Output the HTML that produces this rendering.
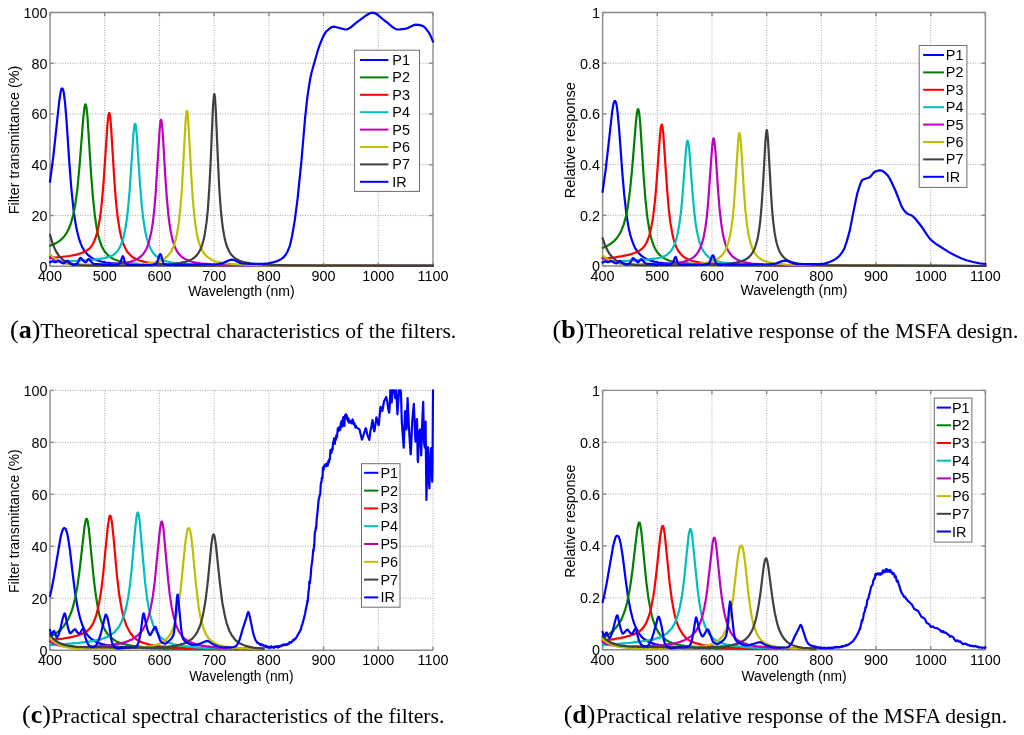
<!DOCTYPE html>
<html><head><meta charset="utf-8"><title>Spectral characteristics</title>
<style>
html,body{margin:0;padding:0;background:#fff;width:1024px;height:735px;overflow:hidden}
svg{display:block}
.tk{font-family:"Liberation Sans",Arial,Helvetica,sans-serif;font-size:14.4px;fill:#000}
.cap{font-family:"Liberation Serif","Times New Roman",serif;font-size:21.6px;fill:#000}
.lab{font-size:26px}
.ax{stroke:#8a8a8a;stroke-width:1.4;fill:none}
.grid{stroke:#a0a0a0;stroke-width:0.9;stroke-dasharray:1 1.5;fill:none}
</style></head><body>
<svg width="1024" height="735" viewBox="0 0 1024 735">
<rect width="1024" height="735" fill="#fff"/>
<line x1="104.71" y1="12.50" x2="104.71" y2="266.30" class="grid"/>
<line x1="159.43" y1="12.50" x2="159.43" y2="266.30" class="grid"/>
<line x1="214.14" y1="12.50" x2="214.14" y2="266.30" class="grid"/>
<line x1="268.86" y1="12.50" x2="268.86" y2="266.30" class="grid"/>
<line x1="323.57" y1="12.50" x2="323.57" y2="266.30" class="grid"/>
<line x1="378.29" y1="12.50" x2="378.29" y2="266.30" class="grid"/>
<line x1="50.00" y1="215.54" x2="433.00" y2="215.54" class="grid"/>
<line x1="50.00" y1="164.78" x2="433.00" y2="164.78" class="grid"/>
<line x1="50.00" y1="114.02" x2="433.00" y2="114.02" class="grid"/>
<line x1="50.00" y1="63.26" x2="433.00" y2="63.26" class="grid"/>
<line x1="50.00" y1="12.50" x2="50.00" y2="266.30" class="ax"/>
<line x1="50.00" y1="266.30" x2="433.00" y2="266.30" class="ax"/>
<line x1="50.00" y1="12.50" x2="433.00" y2="12.50" class="ax"/>
<line x1="433.00" y1="12.50" x2="433.00" y2="266.30" class="ax"/>
<line x1="50.00" y1="266.30" x2="50.00" y2="262.50" class="ax"/>
<line x1="50.00" y1="12.50" x2="50.00" y2="16.30" class="ax"/>
<line x1="104.71" y1="266.30" x2="104.71" y2="262.50" class="ax"/>
<line x1="104.71" y1="12.50" x2="104.71" y2="16.30" class="ax"/>
<line x1="159.43" y1="266.30" x2="159.43" y2="262.50" class="ax"/>
<line x1="159.43" y1="12.50" x2="159.43" y2="16.30" class="ax"/>
<line x1="214.14" y1="266.30" x2="214.14" y2="262.50" class="ax"/>
<line x1="214.14" y1="12.50" x2="214.14" y2="16.30" class="ax"/>
<line x1="268.86" y1="266.30" x2="268.86" y2="262.50" class="ax"/>
<line x1="268.86" y1="12.50" x2="268.86" y2="16.30" class="ax"/>
<line x1="323.57" y1="266.30" x2="323.57" y2="262.50" class="ax"/>
<line x1="323.57" y1="12.50" x2="323.57" y2="16.30" class="ax"/>
<line x1="378.29" y1="266.30" x2="378.29" y2="262.50" class="ax"/>
<line x1="378.29" y1="12.50" x2="378.29" y2="16.30" class="ax"/>
<line x1="433.00" y1="266.30" x2="433.00" y2="262.50" class="ax"/>
<line x1="433.00" y1="12.50" x2="433.00" y2="16.30" class="ax"/>
<line x1="50.00" y1="266.30" x2="53.80" y2="266.30" class="ax"/>
<line x1="433.00" y1="266.30" x2="429.20" y2="266.30" class="ax"/>
<line x1="50.00" y1="215.54" x2="53.80" y2="215.54" class="ax"/>
<line x1="433.00" y1="215.54" x2="429.20" y2="215.54" class="ax"/>
<line x1="50.00" y1="164.78" x2="53.80" y2="164.78" class="ax"/>
<line x1="433.00" y1="164.78" x2="429.20" y2="164.78" class="ax"/>
<line x1="50.00" y1="114.02" x2="53.80" y2="114.02" class="ax"/>
<line x1="433.00" y1="114.02" x2="429.20" y2="114.02" class="ax"/>
<line x1="50.00" y1="63.26" x2="53.80" y2="63.26" class="ax"/>
<line x1="433.00" y1="63.26" x2="429.20" y2="63.26" class="ax"/>
<line x1="50.00" y1="12.50" x2="53.80" y2="12.50" class="ax"/>
<line x1="433.00" y1="12.50" x2="429.20" y2="12.50" class="ax"/>
<path d="M50.0 181.9L53.3 156.6L59.3 100.5L60.7 91.8L61.5 88.9L61.8 88.5L62.0 88.4L62.6 88.7L62.9 89.2L63.7 92.0L65.0 102.3L66.4 119.0L69.4 163.6L71.3 188.2L73.5 209.5L74.6 217.6L76.0 225.9L77.4 232.5L79.0 238.7L80.9 244.1L82.8 248.2L85.0 251.6L87.8 254.8L90.8 257.2L94.0 259.1L97.3 260.4L101.2 261.5L105.8 262.5L111.0 263.2L124.7 264.3L144.9 264.9L172.8 265.2L217.4 265.4L433.0 265.5" fill="none" stroke="#0000ff" stroke-width="2.20" stroke-linejoin="round" stroke-linecap="round"/>
<path d="M50.0 245.8L54.4 244.0L58.2 241.9L61.5 239.3L64.2 236.4L66.7 232.8L68.9 228.5L70.8 223.5L72.7 216.9L74.1 210.8L75.2 204.8L77.4 188.8L79.5 166.1L83.4 116.6L84.5 107.3L85.0 104.9L85.3 104.4L85.6 104.3L86.1 105.5L86.4 106.9L87.5 117.0L91.0 173.0L93.0 198.1L94.9 216.0L96.8 228.5L98.1 234.9L99.8 240.9L101.4 245.4L103.3 249.3L105.5 252.6L108.0 255.2L110.7 257.4L114.0 259.2L117.3 260.5L121.4 261.7L126.1 262.6L131.3 263.3L145.2 264.4L165.4 265.0L193.9 265.4L237.9 265.6L433.0 265.8" fill="none" stroke="#008000" stroke-width="2.20" stroke-linejoin="round" stroke-linecap="round"/>
<path d="M50.0 257.8L60.7 257.0L69.2 256.0L76.5 254.6L82.3 252.8L86.4 250.8L88.0 249.7L89.7 248.3L91.0 246.7L92.4 244.8L94.6 240.4L96.5 234.9L98.1 228.2L99.8 219.0L101.2 208.7L102.5 195.2L103.6 181.8L107.4 124.9L108.5 115.0L109.1 113.1L109.4 113.1L109.6 113.7L110.2 116.9L111.0 126.0L114.3 179.4L115.9 200.8L117.6 216.5L119.5 229.2L120.9 235.7L122.2 240.7L123.9 245.3L125.8 249.3L127.7 252.3L130.2 255.1L132.9 257.3L136.2 259.1L139.5 260.5L143.3 261.6L147.7 262.5L152.9 263.2L166.3 264.3L185.7 264.9L213.0 265.3L254.6 265.6L433.0 265.7" fill="none" stroke="#ff0000" stroke-width="2.20" stroke-linejoin="round" stroke-linecap="round"/>
<path d="M50.0 261.5L68.6 261.1L82.8 260.5L94.3 259.6L103.1 258.4L108.8 256.9L111.0 256.1L112.9 255.1L114.6 253.9L116.2 252.4L117.6 250.8L118.9 248.9L120.3 246.3L121.4 243.8L123.6 236.9L125.2 229.3L126.9 218.8L128.2 206.8L129.6 191.1L133.4 134.4L134.3 126.5L134.8 124.0L135.1 123.7L135.4 124.0L135.9 126.5L136.7 134.4L140.0 183.9L141.6 204.2L143.3 219.1L145.2 231.3L146.6 237.5L147.9 242.2L149.6 246.6L151.2 249.9L153.1 252.8L155.6 255.6L158.3 257.7L161.3 259.4L164.6 260.7L168.2 261.8L172.3 262.6L177.2 263.3L189.8 264.4L208.1 265.0L233.6 265.4L271.9 265.7L433.0 265.9" fill="none" stroke="#00bfbf" stroke-width="2.20" stroke-linejoin="round" stroke-linecap="round"/>
<path d="M50.0 256.8L53.8 259.2L57.9 261.1L62.9 262.6L68.3 263.6L74.9 264.4L82.6 264.8L92.1 264.9L102.5 264.7L111.6 264.3L118.9 263.7L125.0 262.9L130.2 261.8L134.3 260.4L137.8 258.7L140.8 256.5L143.3 253.9L144.9 251.5L146.6 248.5L147.9 245.2L149.0 241.8L151.2 232.6L152.9 222.3L154.2 210.4L155.6 194.4L159.7 128.8L160.5 121.4L160.8 120.2L161.1 119.9L161.3 120.2L161.9 123.2L162.7 132.4L165.4 178.3L167.1 201.4L168.7 218.0L170.4 229.6L171.5 235.3L172.8 240.9L174.5 245.9L176.1 249.6L178.0 252.8L180.2 255.4L182.7 257.6L185.4 259.3L188.4 260.6L191.7 261.7L195.5 262.6L200.2 263.4L211.7 264.4L228.4 265.1L251.6 265.5L286.6 265.8L433.0 266.0" fill="none" stroke="#bf00bf" stroke-width="2.20" stroke-linejoin="round" stroke-linecap="round"/>
<path d="M50.0 254.2L53.0 257.2L56.3 259.6L60.1 261.6L64.2 263.0L68.9 264.0L74.6 264.8L81.5 265.2L90.5 265.4L107.7 265.4L125.8 265.0L138.4 264.4L147.7 263.5L154.8 262.3L160.2 260.6L162.4 259.6L164.6 258.4L166.5 257.0L168.2 255.4L170.1 253.1L171.7 250.4L173.1 247.6L174.5 243.9L175.8 239.1L176.9 234.2L178.9 222.1L180.5 206.6L181.9 188.5L185.7 119.9L186.5 112.1L186.8 111.1L187.1 111.0L187.6 113.5L188.4 123.0L191.2 174.0L192.8 199.3L194.2 214.6L195.8 227.6L196.9 233.9L198.0 238.9L199.4 243.8L201.0 248.1L202.7 251.3L204.6 254.1L206.8 256.4L209.5 258.5L212.2 260.0L215.2 261.2L218.8 262.2L222.9 263.0L233.6 264.2L248.9 265.0L270.0 265.5L301.7 265.7L433.0 266.0" fill="none" stroke="#bfbf00" stroke-width="2.20" stroke-linejoin="round" stroke-linecap="round"/>
<path d="M50.0 234.7L52.2 242.2L54.4 247.9L56.8 252.7L59.6 256.6L62.6 259.5L66.1 261.8L70.2 263.4L75.4 264.6L80.1 265.1L85.8 265.5L103.6 265.7L142.5 265.4L155.9 265.0L166.0 264.5L176.7 263.6L184.3 262.2L187.6 261.2L190.3 260.1L192.5 258.9L194.7 257.3L196.9 255.1L198.8 252.4L200.5 249.3L202.1 245.1L203.5 240.3L204.6 235.3L206.5 222.7L207.9 209.1L209.2 189.8L210.6 163.1L213.0 106.2L213.9 95.6L214.1 94.2L214.4 94.1L215.0 97.5L215.8 110.4L218.0 161.9L219.3 188.8L220.7 208.4L222.1 222.2L223.2 230.3L224.3 236.4L225.4 241.2L226.7 245.8L228.4 249.8L230.0 252.8L231.9 255.3L234.4 257.7L236.8 259.3L239.6 260.7L242.9 261.8L246.4 262.7L250.8 263.4L256.0 264.0L269.4 264.9L288.3 265.4L316.5 265.7L433.0 266.0" fill="none" stroke="#404040" stroke-width="2.20" stroke-linejoin="round" stroke-linecap="round"/>
<path d="M50.0 262.2L51.4 261.5L52.7 261.2L55.2 262.1L56.0 262.2L57.7 260.7L58.2 260.5L59.0 260.7L60.9 262.3L62.3 263.1L63.7 263.5L64.5 263.1L66.4 261.0L67.2 260.7L68.1 261.1L70.5 263.7L72.7 264.8L74.1 265.0L75.7 264.4L77.9 262.6L79.8 258.5L80.4 257.9L80.6 257.9L81.2 258.3L82.6 259.9L84.2 261.5L85.3 262.2L86.1 262.0L87.8 259.6L88.6 258.9L89.4 259.5L90.8 261.4L91.9 262.5L93.0 263.4L93.8 263.8L104.2 264.7L115.9 265.0L118.1 264.4L119.8 263.4L120.3 262.9L122.2 257.2L122.8 256.2L123.0 256.2L123.6 257.2L125.2 263.4L125.8 263.9L127.4 264.7L129.3 265.0L150.1 265.0L153.7 264.5L156.4 263.6L157.2 262.0L159.4 255.4L160.0 254.4L160.5 254.1L161.3 255.8L162.7 261.2L163.5 263.5L163.8 263.8L165.2 264.3L167.4 264.8L197.7 264.7L215.5 264.5L218.5 264.0L222.9 263.1L229.2 260.3L230.6 259.9L231.9 259.7L233.0 259.8L234.4 260.2L239.3 262.6L241.5 263.3L251.1 264.0L263.4 263.8L267.8 263.3L273.0 262.4L277.3 261.1L280.1 259.8L282.5 258.2L284.2 256.6L286.1 254.0L287.7 251.2L289.9 245.6L292.1 236.0L294.8 220.1L297.6 198.7L301.4 161.3L305.2 116.9L307.4 96.9L309.1 85.5L310.4 77.8L311.5 72.8L317.8 50.5L319.2 46.4L321.9 39.4L323.6 35.8L325.2 32.9L326.3 31.5L329.6 28.5L331.2 27.4L332.9 26.8L334.0 26.7L335.6 27.0L344.6 29.4L346.3 29.5L347.9 29.0L350.7 27.4L356.7 22.3L366.8 14.9L370.1 13.2L371.7 12.8L373.1 12.8L375.3 13.4L377.5 14.7L383.8 20.0L387.3 22.6L392.8 27.3L394.7 28.5L396.6 29.3L397.7 29.5L400.2 29.4L406.2 28.6L408.4 27.8L413.0 25.4L415.2 24.7L418.5 24.9L422.6 25.9L424.0 26.8L425.3 28.0L428.9 32.6L430.8 36.3L433.0 41.7" fill="none" stroke="#0000ff" stroke-width="2.20" stroke-linejoin="round" stroke-linecap="round"/>
<text x="50.00" y="281.10" class="tk" text-anchor="middle">400</text>
<text x="104.71" y="281.10" class="tk" text-anchor="middle">500</text>
<text x="159.43" y="281.10" class="tk" text-anchor="middle">600</text>
<text x="214.14" y="281.10" class="tk" text-anchor="middle">700</text>
<text x="268.86" y="281.10" class="tk" text-anchor="middle">800</text>
<text x="323.57" y="281.10" class="tk" text-anchor="middle">900</text>
<text x="378.29" y="281.10" class="tk" text-anchor="middle">1000</text>
<text x="433.00" y="281.10" class="tk" text-anchor="middle">1100</text>
<text x="47.50" y="271.70" class="tk" text-anchor="end">0</text>
<text x="47.50" y="220.94" class="tk" text-anchor="end">20</text>
<text x="47.50" y="170.18" class="tk" text-anchor="end">40</text>
<text x="47.50" y="119.42" class="tk" text-anchor="end">60</text>
<text x="47.50" y="68.66" class="tk" text-anchor="end">80</text>
<text x="47.50" y="17.90" class="tk" text-anchor="end">100</text>
<text x="241.50" y="295.50" class="tk" text-anchor="middle" style="font-size:14.05px">Wavelength (nm)</text>
<text transform="translate(19.00,140.00) rotate(-90)" class="tk" text-anchor="middle" style="font-size:14.40px">Filter transmittance (%)</text>
<rect x="354.60" y="50.20" width="64.90" height="141.20" fill="#fff" stroke="#6e6e6e" stroke-width="1"/>
<line x1="360.00" y1="60.00" x2="388.40" y2="60.00" stroke="#0000ff" stroke-width="2"/>
<text x="392.30" y="65.00" class="tk">P1</text>
<line x1="360.00" y1="77.40" x2="388.40" y2="77.40" stroke="#008000" stroke-width="2"/>
<text x="392.30" y="82.40" class="tk">P2</text>
<line x1="360.00" y1="94.80" x2="388.40" y2="94.80" stroke="#ff0000" stroke-width="2"/>
<text x="392.30" y="99.80" class="tk">P3</text>
<line x1="360.00" y1="112.20" x2="388.40" y2="112.20" stroke="#00bfbf" stroke-width="2"/>
<text x="392.30" y="117.20" class="tk">P4</text>
<line x1="360.00" y1="129.60" x2="388.40" y2="129.60" stroke="#bf00bf" stroke-width="2"/>
<text x="392.30" y="134.60" class="tk">P5</text>
<line x1="360.00" y1="147.00" x2="388.40" y2="147.00" stroke="#bfbf00" stroke-width="2"/>
<text x="392.30" y="152.00" class="tk">P6</text>
<line x1="360.00" y1="164.40" x2="388.40" y2="164.40" stroke="#404040" stroke-width="2"/>
<text x="392.30" y="169.40" class="tk">P7</text>
<line x1="360.00" y1="181.80" x2="388.40" y2="181.80" stroke="#0000ff" stroke-width="2"/>
<text x="392.30" y="186.80" class="tk">IR</text>
<line x1="657.29" y1="12.50" x2="657.29" y2="266.00" class="grid"/>
<line x1="711.97" y1="12.50" x2="711.97" y2="266.00" class="grid"/>
<line x1="766.66" y1="12.50" x2="766.66" y2="266.00" class="grid"/>
<line x1="821.34" y1="12.50" x2="821.34" y2="266.00" class="grid"/>
<line x1="876.03" y1="12.50" x2="876.03" y2="266.00" class="grid"/>
<line x1="930.71" y1="12.50" x2="930.71" y2="266.00" class="grid"/>
<line x1="602.60" y1="215.30" x2="985.40" y2="215.30" class="grid"/>
<line x1="602.60" y1="164.60" x2="985.40" y2="164.60" class="grid"/>
<line x1="602.60" y1="113.90" x2="985.40" y2="113.90" class="grid"/>
<line x1="602.60" y1="63.20" x2="985.40" y2="63.20" class="grid"/>
<line x1="602.60" y1="12.50" x2="602.60" y2="266.00" class="ax"/>
<line x1="602.60" y1="266.00" x2="985.40" y2="266.00" class="ax"/>
<line x1="602.60" y1="12.50" x2="985.40" y2="12.50" class="ax"/>
<line x1="985.40" y1="12.50" x2="985.40" y2="266.00" class="ax"/>
<line x1="602.60" y1="266.00" x2="602.60" y2="262.20" class="ax"/>
<line x1="602.60" y1="12.50" x2="602.60" y2="16.30" class="ax"/>
<line x1="657.29" y1="266.00" x2="657.29" y2="262.20" class="ax"/>
<line x1="657.29" y1="12.50" x2="657.29" y2="16.30" class="ax"/>
<line x1="711.97" y1="266.00" x2="711.97" y2="262.20" class="ax"/>
<line x1="711.97" y1="12.50" x2="711.97" y2="16.30" class="ax"/>
<line x1="766.66" y1="266.00" x2="766.66" y2="262.20" class="ax"/>
<line x1="766.66" y1="12.50" x2="766.66" y2="16.30" class="ax"/>
<line x1="821.34" y1="266.00" x2="821.34" y2="262.20" class="ax"/>
<line x1="821.34" y1="12.50" x2="821.34" y2="16.30" class="ax"/>
<line x1="876.03" y1="266.00" x2="876.03" y2="262.20" class="ax"/>
<line x1="876.03" y1="12.50" x2="876.03" y2="16.30" class="ax"/>
<line x1="930.71" y1="266.00" x2="930.71" y2="262.20" class="ax"/>
<line x1="930.71" y1="12.50" x2="930.71" y2="16.30" class="ax"/>
<line x1="985.40" y1="266.00" x2="985.40" y2="262.20" class="ax"/>
<line x1="985.40" y1="12.50" x2="985.40" y2="16.30" class="ax"/>
<line x1="602.60" y1="266.00" x2="606.40" y2="266.00" class="ax"/>
<line x1="985.40" y1="266.00" x2="981.60" y2="266.00" class="ax"/>
<line x1="602.60" y1="215.30" x2="606.40" y2="215.30" class="ax"/>
<line x1="985.40" y1="215.30" x2="981.60" y2="215.30" class="ax"/>
<line x1="602.60" y1="164.60" x2="606.40" y2="164.60" class="ax"/>
<line x1="985.40" y1="164.60" x2="981.60" y2="164.60" class="ax"/>
<line x1="602.60" y1="113.90" x2="606.40" y2="113.90" class="ax"/>
<line x1="985.40" y1="113.90" x2="981.60" y2="113.90" class="ax"/>
<line x1="602.60" y1="63.20" x2="606.40" y2="63.20" class="ax"/>
<line x1="985.40" y1="63.20" x2="981.60" y2="63.20" class="ax"/>
<line x1="602.60" y1="12.50" x2="606.40" y2="12.50" class="ax"/>
<line x1="985.40" y1="12.50" x2="981.60" y2="12.50" class="ax"/>
<path d="M602.6 191.8L605.9 167.9L612.2 111.5L613.5 103.6L614.4 101.2L614.9 101.0L615.5 101.4L615.7 101.9L616.3 103.6L616.8 106.4L617.6 112.7L619.0 127.7L622.3 172.4L624.2 194.7L626.4 213.8L627.5 221.1L628.8 228.6L630.2 234.6L631.9 240.2L633.8 245.2L635.7 248.9L637.9 252.2L640.6 255.1L643.6 257.4L647.2 259.3L650.5 260.6L654.0 261.6L658.4 262.5L663.3 263.1L676.2 264.1L694.2 264.7L727.3 265.1L839.4 265.6L985.4 266.0" fill="none" stroke="#0000ff" stroke-width="2.20" stroke-linejoin="round" stroke-linecap="round"/>
<path d="M602.6 247.9L607.0 246.0L610.8 243.7L614.4 240.8L617.1 237.7L619.6 234.0L621.7 229.7L623.7 224.6L625.3 218.9L626.7 212.9L627.8 207.0L629.9 191.4L632.1 169.3L636.0 121.1L637.1 112.0L637.6 109.7L637.9 109.1L638.1 109.1L638.7 110.2L639.0 111.5L640.1 121.4L643.6 176.0L645.5 200.4L647.4 217.9L649.4 230.0L650.7 236.2L652.1 241.1L653.7 245.7L655.6 249.6L657.8 252.9L660.3 255.5L663.0 257.6L666.3 259.4L669.6 260.7L673.4 261.7L677.8 262.6L682.7 263.2L695.8 264.2L715.0 264.8L757.1 265.3L836.4 265.7L985.4 266.0" fill="none" stroke="#008000" stroke-width="2.20" stroke-linejoin="round" stroke-linecap="round"/>
<path d="M602.6 258.5L614.9 257.3L622.3 256.2L629.4 254.7L635.1 252.8L639.2 250.8L642.2 248.6L643.6 247.1L645.0 245.3L647.2 241.2L649.1 236.1L650.7 229.9L652.4 221.3L653.7 211.8L655.1 199.3L656.2 187.0L660.0 135.1L660.8 127.7L661.4 125.1L661.7 124.6L661.9 124.7L662.5 126.6L663.3 133.8L666.9 186.7L668.5 206.5L670.1 220.9L672.1 232.5L673.4 238.5L674.8 243.1L676.4 247.3L678.1 250.5L680.0 253.2L682.4 255.8L685.2 257.9L688.5 259.6L691.7 260.8L695.3 261.7L699.7 262.6L704.9 263.2L718.0 264.2L736.9 264.8L774.0 265.3L836.9 265.7L985.4 266.0" fill="none" stroke="#ff0000" stroke-width="2.20" stroke-linejoin="round" stroke-linecap="round"/>
<path d="M602.6 261.8L636.5 260.3L648.8 259.4L656.7 258.4L661.9 257.2L665.8 255.6L668.8 253.4L671.5 250.2L674.0 245.8L676.2 239.7L677.8 233.1L679.4 223.8L680.8 213.3L682.2 199.6L686.0 149.9L686.8 143.1L687.4 140.9L687.6 140.6L687.9 141.0L688.5 143.2L689.3 150.2L692.6 193.8L694.2 211.6L695.8 224.7L697.8 235.3L699.1 240.8L700.5 245.0L702.1 248.8L703.8 251.7L705.7 254.2L708.1 256.6L710.6 258.4L713.6 259.9L716.9 261.1L720.4 262.0L724.8 262.8L729.7 263.4L742.6 264.4L761.2 265.0L790.2 265.4L838.3 265.7L985.4 266.0" fill="none" stroke="#00bfbf" stroke-width="2.20" stroke-linejoin="round" stroke-linecap="round"/>
<path d="M602.6 257.7L606.4 259.6L610.8 261.3L615.7 262.6L621.2 263.5L627.5 264.1L635.1 264.5L644.4 264.7L654.6 264.5L663.6 264.2L671.2 263.7L677.5 262.9L682.4 262.1L686.5 260.9L690.1 259.4L693.1 257.6L695.6 255.4L697.2 253.4L698.8 250.9L700.2 248.1L701.3 245.4L703.5 237.8L705.4 227.5L706.8 217.1L708.1 203.2L712.2 146.0L713.1 139.6L713.3 138.6L713.6 138.3L713.9 138.7L714.4 141.3L715.3 149.3L718.0 189.4L719.6 209.5L721.3 224.0L722.9 234.1L724.0 239.1L725.4 244.0L726.7 247.7L728.4 251.1L730.3 254.0L732.5 256.4L734.9 258.3L737.7 259.9L740.7 261.1L744.0 262.0L747.8 262.8L752.4 263.5L764.2 264.5L781.1 265.1L803.3 265.5L840.5 265.8L985.4 266.0" fill="none" stroke="#bf00bf" stroke-width="2.20" stroke-linejoin="round" stroke-linecap="round"/>
<path d="M602.6 255.3L605.6 257.9L608.9 260.0L612.7 261.7L616.8 262.9L621.5 263.9L627.2 264.5L634.0 264.9L642.5 265.1L659.2 265.2L677.8 264.8L690.1 264.3L699.7 263.6L706.8 262.6L712.5 261.1L716.9 259.3L720.4 256.8L722.4 254.9L724.0 252.7L725.4 250.3L726.7 247.3L728.1 243.4L729.2 239.4L731.1 229.7L732.8 217.2L734.1 202.5L738.2 140.5L739.0 134.0L739.3 133.2L739.6 133.1L740.1 135.3L741.0 143.6L743.7 187.6L745.3 209.2L746.7 222.3L748.3 233.5L749.4 238.9L750.5 243.1L751.9 247.2L753.5 250.9L755.2 253.7L757.1 256.0L759.3 258.0L762.0 259.8L764.7 261.0L767.8 262.0L771.3 262.8L775.4 263.5L786.1 264.5L800.8 265.1L844.3 265.7L985.4 266.0" fill="none" stroke="#bfbf00" stroke-width="2.20" stroke-linejoin="round" stroke-linecap="round"/>
<path d="M602.6 238.2L604.8 244.6L607.0 249.5L609.4 253.6L612.4 257.3L615.5 259.9L619.0 261.9L623.1 263.4L628.3 264.4L633.0 264.9L638.4 265.2L655.1 265.5L692.3 265.2L716.9 264.6L727.8 263.8L736.0 262.6L739.3 261.9L742.0 261.0L744.5 260.0L746.7 258.8L749.2 256.8L751.1 254.8L752.7 252.4L754.4 249.2L755.7 245.5L756.8 241.8L757.9 236.9L759.0 230.6L760.4 219.8L761.7 204.4L763.1 183.4L765.3 143.2L766.1 133.0L766.7 130.2L766.9 130.2L767.2 131.3L768.0 139.6L770.8 189.7L772.1 209.8L773.2 221.6L774.6 232.4L775.7 238.7L776.8 243.5L777.9 247.2L779.2 250.7L780.9 253.9L782.5 256.1L784.4 258.1L786.6 259.7L788.8 260.9L791.5 262.0L794.8 262.9L798.4 263.5L807.7 264.5L821.1 265.2L849.5 265.7L985.4 266.0" fill="none" stroke="#404040" stroke-width="2.20" stroke-linejoin="round" stroke-linecap="round"/>
<path d="M602.6 262.5L604.0 261.7L605.1 261.4L605.9 261.5L607.8 262.1L608.6 262.2L610.3 260.9L610.8 260.7L611.9 261.1L615.2 263.2L616.3 263.5L617.1 263.1L619.0 261.2L619.8 260.9L620.6 261.3L623.1 263.6L625.3 264.6L626.7 264.7L628.3 264.1L630.5 262.5L632.4 258.7L633.0 258.2L633.2 258.2L633.8 258.5L637.1 261.7L637.9 262.2L638.7 261.9L640.3 259.8L641.2 259.2L642.0 259.6L643.3 261.4L645.0 262.9L646.3 263.7L654.8 264.4L668.8 264.7L671.0 264.1L672.9 262.9L674.8 257.8L675.3 257.0L675.6 256.9L676.2 257.8L677.8 263.4L678.1 263.7L680.0 264.5L681.9 264.7L702.9 264.7L706.5 264.2L709.0 263.6L709.8 262.2L712.0 256.4L712.5 255.6L713.1 255.4L713.9 256.8L715.5 262.3L716.1 263.5L717.7 264.3L719.6 264.7L749.2 264.7L768.6 264.4L775.7 263.6L782.2 261.1L785.0 260.7L787.7 261.1L794.3 263.6L797.3 264.2L821.6 264.0L824.4 263.6L827.1 262.9L830.1 261.8L833.9 259.9L835.8 258.9L837.5 257.6L839.4 255.8L841.3 253.5L843.2 250.7L844.3 248.5L846.8 241.4L849.8 230.4L855.5 201.6L857.4 193.0L859.9 185.0L861.5 181.1L862.4 180.1L863.7 179.2L868.4 177.7L870.0 176.9L871.1 175.9L873.8 172.5L874.9 171.6L877.9 170.7L880.7 170.4L882.6 171.0L884.8 172.6L887.5 175.2L889.4 178.0L891.3 181.7L895.4 190.5L901.2 205.4L902.6 208.2L903.6 209.8L905.3 211.9L906.7 213.1L908.0 214.0L911.8 215.6L913.2 216.6L914.9 218.2L921.7 226.8L928.8 237.5L930.4 239.4L931.8 240.7L936.5 244.3L948.5 251.9L953.7 254.8L961.1 258.3L966.3 260.3L973.1 262.0L979.7 263.3L985.4 264.0" fill="none" stroke="#0000ff" stroke-width="2.20" stroke-linejoin="round" stroke-linecap="round"/>
<text x="602.60" y="280.80" class="tk" text-anchor="middle">400</text>
<text x="657.29" y="280.80" class="tk" text-anchor="middle">500</text>
<text x="711.97" y="280.80" class="tk" text-anchor="middle">600</text>
<text x="766.66" y="280.80" class="tk" text-anchor="middle">700</text>
<text x="821.34" y="280.80" class="tk" text-anchor="middle">800</text>
<text x="876.03" y="280.80" class="tk" text-anchor="middle">900</text>
<text x="930.71" y="280.80" class="tk" text-anchor="middle">1000</text>
<text x="985.40" y="280.80" class="tk" text-anchor="middle">1100</text>
<text x="600.10" y="271.40" class="tk" text-anchor="end">0</text>
<text x="600.10" y="220.70" class="tk" text-anchor="end">0.2</text>
<text x="600.10" y="170.00" class="tk" text-anchor="end">0.4</text>
<text x="600.10" y="119.30" class="tk" text-anchor="end">0.6</text>
<text x="600.10" y="68.60" class="tk" text-anchor="end">0.8</text>
<text x="600.10" y="17.90" class="tk" text-anchor="end">1</text>
<text x="794.00" y="295.20" class="tk" text-anchor="middle" style="font-size:14.15px">Wavelength (nm)</text>
<text transform="translate(574.80,140.25) rotate(-90)" class="tk" text-anchor="middle" style="font-size:14.50px">Relative response</text>
<rect x="919.20" y="45.50" width="47.70" height="141.90" fill="#fff" stroke="#6e6e6e" stroke-width="1"/>
<line x1="923.10" y1="55.00" x2="944.00" y2="55.00" stroke="#0000ff" stroke-width="2"/>
<text x="945.80" y="60.00" class="tk">P1</text>
<line x1="923.10" y1="72.40" x2="944.00" y2="72.40" stroke="#008000" stroke-width="2"/>
<text x="945.80" y="77.40" class="tk">P2</text>
<line x1="923.10" y1="89.80" x2="944.00" y2="89.80" stroke="#ff0000" stroke-width="2"/>
<text x="945.80" y="94.80" class="tk">P3</text>
<line x1="923.10" y1="107.20" x2="944.00" y2="107.20" stroke="#00bfbf" stroke-width="2"/>
<text x="945.80" y="112.20" class="tk">P4</text>
<line x1="923.10" y1="124.60" x2="944.00" y2="124.60" stroke="#bf00bf" stroke-width="2"/>
<text x="945.80" y="129.60" class="tk">P5</text>
<line x1="923.10" y1="142.00" x2="944.00" y2="142.00" stroke="#bfbf00" stroke-width="2"/>
<text x="945.80" y="147.00" class="tk">P6</text>
<line x1="923.10" y1="159.40" x2="944.00" y2="159.40" stroke="#404040" stroke-width="2"/>
<text x="945.80" y="164.40" class="tk">P7</text>
<line x1="923.10" y1="176.80" x2="944.00" y2="176.80" stroke="#0000ff" stroke-width="2"/>
<text x="945.80" y="181.80" class="tk">IR</text>
<line x1="104.71" y1="390.40" x2="104.71" y2="650.20" class="grid"/>
<line x1="159.43" y1="390.40" x2="159.43" y2="650.20" class="grid"/>
<line x1="214.14" y1="390.40" x2="214.14" y2="650.20" class="grid"/>
<line x1="268.86" y1="390.40" x2="268.86" y2="650.20" class="grid"/>
<line x1="323.57" y1="390.40" x2="323.57" y2="650.20" class="grid"/>
<line x1="378.29" y1="390.40" x2="378.29" y2="650.20" class="grid"/>
<line x1="50.00" y1="598.24" x2="433.00" y2="598.24" class="grid"/>
<line x1="50.00" y1="546.28" x2="433.00" y2="546.28" class="grid"/>
<line x1="50.00" y1="494.32" x2="433.00" y2="494.32" class="grid"/>
<line x1="50.00" y1="442.36" x2="433.00" y2="442.36" class="grid"/>
<line x1="50.00" y1="390.40" x2="433.00" y2="390.40" class="grid"/>
<line x1="433.00" y1="390.40" x2="433.00" y2="650.20" class="grid"/>
<line x1="50.00" y1="390.40" x2="50.00" y2="650.20" class="ax"/>
<line x1="50.00" y1="650.20" x2="433.00" y2="650.20" class="ax"/>
<line x1="50.00" y1="650.20" x2="50.00" y2="646.40" class="ax"/>
<line x1="104.71" y1="650.20" x2="104.71" y2="646.40" class="ax"/>
<line x1="159.43" y1="650.20" x2="159.43" y2="646.40" class="ax"/>
<line x1="214.14" y1="650.20" x2="214.14" y2="646.40" class="ax"/>
<line x1="268.86" y1="650.20" x2="268.86" y2="646.40" class="ax"/>
<line x1="323.57" y1="650.20" x2="323.57" y2="646.40" class="ax"/>
<line x1="378.29" y1="650.20" x2="378.29" y2="646.40" class="ax"/>
<line x1="433.00" y1="650.20" x2="433.00" y2="646.40" class="ax"/>
<line x1="50.00" y1="650.20" x2="53.80" y2="650.20" class="ax"/>
<line x1="50.00" y1="598.24" x2="53.80" y2="598.24" class="ax"/>
<line x1="50.00" y1="546.28" x2="53.80" y2="546.28" class="ax"/>
<line x1="50.00" y1="494.32" x2="53.80" y2="494.32" class="ax"/>
<line x1="50.00" y1="442.36" x2="53.80" y2="442.36" class="ax"/>
<line x1="50.00" y1="390.40" x2="53.80" y2="390.40" class="ax"/>
<path d="M50.0 596.2L51.6 589.0L53.8 577.6L60.4 538.3L61.2 534.6L62.9 529.3L64.0 528.0L64.5 528.1L65.9 529.2L66.1 529.8L67.2 533.3L68.3 539.3L70.0 550.7L73.0 576.5L75.4 594.9L77.9 609.0L80.1 618.2L81.5 622.7L83.1 627.0L86.7 633.8L89.1 636.9L91.0 638.8L92.1 639.2L93.0 640.0L93.2 640.0L96.2 642.2L97.1 642.3L99.0 643.2L99.8 643.3L100.6 643.9L101.4 643.9L103.3 644.6L104.2 644.6L105.5 645.2L106.4 645.1L107.2 645.5L108.3 645.5L109.1 645.8L110.2 645.7L111.0 646.1L114.3 646.2L115.7 646.6L116.5 646.5L116.8 646.7L117.6 646.7L117.8 646.9L119.5 646.8L120.3 647.0L121.1 646.8L121.7 647.1L122.2 646.9L123.0 647.2L124.1 647.1L125.2 647.2L125.8 647.5L126.6 647.4L126.9 647.6L128.0 647.3L128.5 647.6L129.6 647.3L130.4 647.5L131.3 647.3L132.3 647.7L133.7 647.6L134.5 647.9L136.4 647.6L137.0 647.8L137.5 647.7L138.1 647.9L139.7 647.7L141.4 648.0L142.5 648.0L142.7 647.8L143.8 648.1L144.9 647.7L146.0 647.7L146.6 648.2L148.8 647.9L149.6 648.1L150.4 648.0L151.2 648.3L152.0 647.9L152.6 648.3L153.4 648.0L154.2 648.1L155.1 648.5L155.9 648.1L156.7 648.1L157.5 648.3L158.9 648.0L159.7 648.2L161.1 648.3L161.3 648.1L161.6 648.2L162.2 648.1L163.0 648.4L163.5 648.2L164.9 648.6L165.2 648.4L166.3 648.5L168.2 648.2L170.1 648.3L170.6 648.1L171.5 648.3L172.3 648.1L173.1 648.6L174.5 648.2L175.3 648.5L175.6 648.3L176.4 648.5L177.2 648.2L178.0 648.4L179.4 648.5L180.2 648.3L180.8 648.5L181.6 648.2L182.7 648.5L184.6 648.3L185.1 648.5L185.7 648.3L187.3 648.5L189.0 648.3L190.1 648.8L190.9 648.4L191.4 648.7L192.3 648.4L193.1 648.5L193.6 648.2L195.5 648.6L198.0 648.4L198.8 648.7L200.2 648.4L202.7 648.7L203.2 648.4L203.7 648.6L204.6 648.2L207.3 648.5L207.9 648.3L208.7 648.6L209.5 648.2L210.0 648.4L210.9 648.2L212.8 648.6L213.3 648.3L213.9 648.4L214.7 648.8L215.5 648.5L216.9 648.3L218.2 648.6L219.9 648.4L221.5 648.6L223.2 648.4L224.0 648.7L225.1 648.4L225.9 648.7L226.7 648.5L229.2 648.4L229.5 648.5L229.7 648.4L230.6 648.8L231.4 648.4L231.7 648.6L232.5 648.5L233.0 648.8L233.8 648.5L234.9 648.7L236.8 648.5L237.4 648.8L237.9 648.4L238.8 648.7L240.4 648.7L243.7 648.3L244.5 648.6L245.1 648.3L246.2 648.7L247.0 648.6L247.2 648.8L248.9 648.5L249.7 648.9L250.5 648.5L252.2 648.5L253.5 648.8L254.4 648.4L255.5 648.4L256.0 648.7L256.8 648.5L257.1 648.7L257.9 648.5L258.7 648.6L259.6 648.4L260.1 648.7L263.4 648.6" fill="none" stroke="#0000ff" stroke-width="2.20" stroke-linejoin="round" stroke-linecap="round"/>
<path d="M50.0 636.8L50.5 636.6L51.4 635.7L51.9 635.7L52.7 635.0L53.6 635.0L56.3 632.9L56.6 633.0L57.1 632.6L57.9 631.5L58.8 631.4L59.6 630.2L60.4 630.1L60.7 629.8L61.2 628.9L64.0 625.9L67.8 620.1L69.4 616.8L72.2 609.7L74.6 600.6L77.4 586.5L79.8 568.4L84.5 526.8L85.8 519.9L86.4 518.9L86.7 518.8L86.9 518.8L87.5 520.3L88.8 528.5L93.8 579.3L96.0 596.6L97.9 607.8L99.2 614.4L100.6 619.2L103.1 626.3L105.5 630.9L106.4 631.9L107.4 633.9L108.5 635.4L109.4 635.8L110.2 637.0L111.0 637.8L112.6 638.8L114.0 640.0L115.4 640.6L117.0 641.8L118.1 642.0L120.0 643.2L120.9 643.1L121.9 643.8L122.8 643.7L124.7 644.4L125.2 644.3L126.6 644.8L127.7 644.7L128.5 645.3L129.9 645.3L131.0 645.7L131.3 645.6L132.9 646.2L133.4 645.9L134.5 646.3L135.4 646.3L136.2 646.7L136.4 646.5L137.0 646.4L137.3 646.7L138.6 646.6L140.0 646.7L140.3 646.9L140.8 646.9L141.1 646.7L141.9 647.2L142.2 647.0L143.3 647.0L144.9 647.4L145.8 647.3L146.0 647.5L147.7 647.5L148.2 647.3L149.0 647.6L151.8 647.6L152.9 647.9L153.7 647.6L154.5 647.8L154.8 647.6L155.9 647.9L157.5 647.8L158.3 648.2L159.2 647.8L160.0 648.1L161.3 648.2L162.2 647.9L163.3 648.3L165.7 648.1L166.5 648.5L167.4 648.2L168.2 648.4L168.5 648.2L169.0 648.2L170.1 648.4L170.9 648.2L171.7 648.4L172.0 648.1L172.8 648.4L173.4 648.3L174.2 648.7L175.3 648.3L176.1 648.4L176.4 648.3L177.2 648.5L178.6 648.3L179.4 648.7L180.8 648.3L181.3 648.8L182.1 648.4L182.7 648.7L183.5 648.6L185.1 648.8L185.4 648.6L187.1 648.6L189.0 649.0L190.6 648.5L191.4 648.7L192.0 648.7L192.8 649.0L193.9 648.7L195.8 648.9L196.4 648.8L198.3 648.9L199.6 648.7L202.7 649.0L203.7 648.7L204.6 649.0L205.4 648.7L206.2 648.9L206.5 648.6L207.9 649.2L208.7 649.2L210.3 648.8L211.1 649.2L212.8 648.7L213.3 649.0L214.7 649.0L215.5 648.7L216.3 649.2L217.7 649.2L218.5 648.8L219.1 649.1L220.2 649.3L220.4 649.1L221.3 649.2L221.8 649.0L223.7 649.0L224.0 648.9L224.8 649.3L225.4 649.0L226.2 649.2L227.8 648.8L228.1 649.1L229.2 649.1L229.7 649.3L230.3 649.4L231.4 648.8L233.3 649.1L234.1 648.8L234.9 649.1L235.2 649.0L236.0 649.5L236.8 648.9L238.8 649.2L239.6 648.9L240.4 649.1L244.0 648.9L244.8 649.4L246.4 648.9L248.9 649.3L249.7 649.1L250.3 649.2L251.3 649.0L252.2 649.1L252.4 648.9L253.5 649.2L253.8 648.9L254.6 649.3L255.2 649.1L255.7 649.3L256.3 649.1L257.1 649.2L258.5 649.1L259.6 649.3L260.4 649.0L261.2 649.3L262.8 649.0L263.4 649.2" fill="none" stroke="#008000" stroke-width="2.20" stroke-linejoin="round" stroke-linecap="round"/>
<path d="M50.0 640.0L50.5 639.8L53.0 639.7L54.4 639.5L54.7 639.3L55.5 639.5L55.7 639.3L58.5 639.2L59.6 638.8L61.2 639.0L64.5 638.2L67.8 637.9L68.6 637.5L69.2 637.4L69.4 637.7L71.3 636.9L72.4 637.0L75.2 635.9L75.7 636.0L76.8 635.9L78.7 635.1L79.5 634.9L80.1 634.4L80.9 634.5L83.1 633.2L83.9 633.0L84.2 632.7L84.5 632.7L86.1 631.8L87.2 631.0L88.3 629.8L89.1 629.3L90.2 628.0L91.0 626.6L91.9 625.6L93.5 622.5L96.2 615.4L97.6 610.1L99.2 602.3L100.6 594.2L101.7 586.6L103.3 572.5L107.7 527.4L109.1 518.1L109.6 516.1L109.9 515.7L110.2 515.6L110.5 515.9L111.0 517.3L112.1 523.8L113.5 537.0L117.0 576.3L119.2 594.5L121.7 609.3L123.9 618.3L126.6 626.1L130.2 632.8L133.7 637.3L134.0 637.3L135.6 638.8L136.4 639.1L137.0 640.0L137.8 640.0L138.6 640.8L140.3 641.5L141.4 642.2L142.2 642.2L142.7 642.7L144.4 643.2L145.2 643.3L148.2 644.4L149.9 644.6L150.4 645.0L152.0 645.1L153.4 645.6L157.0 646.1L157.8 646.4L158.6 646.3L161.6 646.7L161.9 646.5L162.4 646.5L163.3 646.9L164.1 646.9L164.9 646.6L166.0 646.9L166.5 647.2L167.1 647.0L168.7 647.2L169.3 647.6L170.6 647.3L171.7 647.7L172.6 647.4L173.7 647.8L174.7 647.5L175.3 647.8L176.7 647.9L177.8 647.7L180.2 648.0L181.0 647.7L182.1 647.7L183.2 648.1L184.9 647.7L186.2 648.2L186.5 648.5L187.3 648.2L188.7 648.3L189.0 648.1L189.8 648.3L190.6 648.2L191.7 648.5L192.8 648.1L193.4 648.4L194.7 648.2L195.8 648.5L196.6 648.1L197.5 648.7L198.3 648.3L201.3 648.7L202.1 648.4L203.2 648.7L204.3 648.5L205.1 648.7L205.9 648.4L206.8 649.0L207.3 648.7L208.4 648.9L209.2 648.4L209.8 648.4L210.9 648.8L211.7 648.6L212.8 648.7L213.0 648.5L214.1 648.7L215.0 648.5L216.1 648.8L217.4 648.9L219.3 648.7L220.4 649.2L221.8 648.7L222.9 649.0L223.4 648.7L224.0 649.0L224.8 648.7L225.4 648.9L226.2 648.6L227.0 648.9L228.9 649.0L229.2 648.8L230.3 649.0L231.7 648.8L232.5 649.0L233.6 648.9L234.4 649.1L236.8 648.7L238.2 649.0L239.3 648.7L240.4 649.2L241.2 648.7L241.8 648.7L243.1 648.8L244.0 649.2L244.5 648.8L245.3 649.0L248.3 649.2L249.7 648.8L251.1 649.2L252.2 648.9L255.5 649.1L256.3 648.9L257.1 649.2L257.9 648.9L259.0 649.3L259.3 649.1L260.6 649.1L261.5 648.8L263.4 649.2" fill="none" stroke="#ff0000" stroke-width="2.20" stroke-linejoin="round" stroke-linecap="round"/>
<path d="M50.0 644.9L52.7 644.8L53.3 644.5L54.1 644.9L56.3 644.5L58.8 644.5L59.6 644.1L59.8 644.2L61.5 644.1L62.0 644.3L62.9 644.0L63.7 644.2L65.3 644.1L67.0 643.7L67.8 644.1L68.9 643.5L70.2 643.8L71.3 643.3L72.2 643.6L73.0 643.2L77.4 643.2L79.3 642.7L80.4 642.8L82.0 642.4L82.8 642.7L83.6 642.1L83.9 642.3L84.7 642.2L85.6 641.8L86.9 641.9L88.3 641.5L88.8 641.6L91.0 641.3L91.6 641.4L92.4 641.0L93.8 641.0L95.4 640.4L96.2 640.3L97.1 639.9L98.1 639.9L99.0 639.6L100.3 639.6L101.4 639.3L102.3 638.7L104.4 638.1L104.7 637.9L106.1 637.5L106.9 637.0L107.4 637.1L108.0 636.6L109.9 635.6L110.7 634.8L111.0 634.9L112.4 633.6L114.6 632.2L116.5 629.6L117.6 628.7L118.7 627.1L119.2 626.6L121.9 621.0L124.1 615.1L126.3 607.1L128.2 597.2L129.9 585.7L131.5 570.8L134.8 532.9L136.2 519.3L137.0 514.3L137.5 512.6L137.8 512.4L138.6 514.2L139.7 521.6L144.9 580.4L146.8 596.6L148.5 606.9L150.4 615.8L152.9 624.4L155.6 630.5L158.6 635.1L159.4 635.8L160.2 636.9L162.7 638.8L163.5 639.7L164.9 640.6L166.5 641.3L167.4 641.9L168.7 642.3L169.6 642.9L170.4 642.9L170.9 643.3L171.5 643.3L172.3 643.8L173.9 644.4L175.3 644.5L176.1 644.8L176.4 644.7L177.2 645.5L177.8 645.1L178.6 645.4L179.1 645.3L179.4 645.5L180.2 645.4L180.8 645.7L181.6 645.7L182.4 646.1L184.9 646.4L185.1 646.2L186.0 646.5L187.1 646.4L188.2 646.8L189.0 646.6L189.8 646.8L190.1 646.7L191.7 647.1L193.1 647.0L193.9 647.4L195.0 647.1L197.7 647.4L198.5 647.9L198.8 647.6L199.4 647.6L200.5 647.8L201.6 647.5L202.4 647.8L203.2 647.7L204.0 648.0L204.8 647.6L205.9 648.3L207.3 647.9L208.1 648.2L208.7 648.2L209.5 647.8L209.8 648.1L210.3 648.3L211.1 648.1L212.0 648.1L212.2 648.4L212.8 648.3L213.0 648.0L214.7 648.4L215.2 648.0L216.9 648.4L217.4 648.3L218.2 648.4L218.5 648.2L221.8 648.6L222.6 648.4L222.9 648.5L224.5 648.4L225.4 648.6L226.7 648.3L227.5 648.6L228.1 648.5L229.5 648.8L230.0 648.7L230.3 648.5L231.1 648.5L232.2 649.0L233.0 648.6L234.9 648.9L235.8 648.4L236.6 648.7L239.3 648.6L239.6 648.9L239.9 648.7L240.7 649.0L241.5 648.5L242.0 648.7L242.6 648.5L244.0 648.9L244.8 648.7L245.3 649.0L246.4 648.7L247.2 648.9L247.5 648.8L248.3 648.9L249.4 648.6L250.0 648.9L250.8 648.7L251.6 649.1L252.4 648.9L253.5 649.1L254.4 648.9L255.5 649.0L256.3 648.8L257.4 649.1L259.6 648.9L260.9 649.2L263.4 648.8" fill="none" stroke="#00bfbf" stroke-width="2.20" stroke-linejoin="round" stroke-linecap="round"/>
<path d="M50.0 641.5L51.1 642.5L51.9 642.6L52.5 642.8L53.6 643.7L54.4 643.6L56.3 644.6L57.1 644.7L57.9 645.2L58.8 645.0L59.6 645.5L60.4 645.5L61.8 645.7L62.6 646.1L64.2 646.2L64.8 646.4L65.3 646.4L66.7 646.8L67.5 646.5L68.1 646.5L68.6 647.0L69.4 646.7L70.2 647.0L71.1 646.8L71.9 647.1L72.4 646.9L73.8 647.2L74.6 647.0L75.7 647.1L76.5 647.4L78.5 647.0L79.3 647.3L80.1 646.9L80.9 647.3L81.7 647.0L82.8 647.2L83.6 646.9L84.5 647.2L85.3 646.9L86.7 647.2L87.5 646.9L88.3 647.3L89.4 646.8L90.2 647.0L90.5 646.9L90.8 647.1L91.0 647.0L91.3 647.1L92.4 646.7L93.5 647.1L94.9 646.3L95.4 646.6L96.2 646.5L97.1 646.6L97.3 646.4L98.1 646.6L99.2 646.0L100.1 646.4L101.4 646.1L102.0 646.2L102.5 646.0L104.2 646.0L104.7 645.8L105.8 645.9L106.6 645.7L106.9 645.9L107.7 645.4L109.4 645.4L110.2 645.0L110.5 645.2L111.0 645.2L111.3 645.0L111.8 645.1L113.2 644.7L114.0 644.8L114.6 644.4L115.4 644.5L115.9 644.1L116.8 644.1L117.0 643.9L118.4 644.0L119.2 643.6L120.3 643.5L122.5 642.7L123.3 642.8L124.7 642.3L125.2 642.2L125.5 642.4L126.3 641.6L127.4 641.5L128.2 641.0L129.1 640.8L129.6 640.3L131.8 639.6L133.7 638.1L135.1 637.5L135.9 636.5L137.0 636.0L138.4 635.0L139.7 633.2L140.6 632.6L141.4 631.2L142.7 629.9L145.8 624.1L146.8 621.6L148.8 615.9L150.7 608.0L152.9 595.9L154.8 581.2L160.0 528.5L161.1 522.5L161.3 521.9L161.9 521.5L162.4 522.8L162.7 524.1L163.5 529.4L168.2 580.6L169.8 594.9L171.7 607.5L173.9 617.8L175.8 624.3L178.3 630.3L181.3 635.0L184.3 638.4L186.8 640.2L187.6 640.5L188.4 641.4L189.2 641.5L190.1 642.1L191.2 642.4L192.0 643.0L192.5 642.9L193.9 643.4L195.3 644.3L198.3 645.1L198.8 645.0L199.9 645.5L200.7 645.3L202.1 645.9L202.7 645.7L203.5 646.0L204.6 645.9L205.9 646.4L206.8 646.5L207.0 646.3L208.1 646.6L208.4 646.4L210.0 646.9L212.0 646.8L212.5 647.1L214.4 647.1L215.2 647.4L219.3 647.6L219.9 647.4L220.7 647.7L221.5 647.5L222.1 647.6L222.9 648.1L225.6 647.9L226.2 648.2L227.0 647.9L227.8 647.9L228.1 647.7L230.0 648.2L233.3 648.0L234.4 648.6L236.0 648.3L236.8 648.7L238.2 648.0L239.6 648.4L240.4 648.3L241.2 648.7L241.8 648.4L242.6 648.4L242.9 648.3L243.7 648.6L245.6 648.4L245.9 648.6L246.4 648.7L246.7 648.5L247.5 648.7L247.8 648.6L248.9 648.6L249.7 648.4L250.5 648.8L253.3 648.4L254.1 648.7L257.9 648.5L260.1 648.9L260.9 648.6L262.6 649.1L263.1 648.8L263.4 648.9" fill="none" stroke="#bf00bf" stroke-width="2.20" stroke-linejoin="round" stroke-linecap="round"/>
<path d="M50.0 638.2L51.9 640.2L52.5 640.4L53.3 641.3L54.1 641.7L54.9 642.7L55.5 642.9L56.0 643.4L56.8 643.5L57.9 644.5L58.8 644.6L59.3 645.1L60.1 645.2L60.9 645.8L61.8 645.8L62.9 646.3L64.2 646.5L66.4 647.3L67.2 647.0L68.9 647.5L70.5 647.9L71.1 647.7L71.9 648.1L73.8 648.0L74.3 648.1L74.6 648.4L75.7 648.3L78.5 648.7L79.3 648.5L80.4 648.8L83.6 648.5L84.5 648.8L84.7 648.7L86.4 648.8L87.5 648.6L88.0 648.7L88.3 649.0L91.0 648.9L92.1 649.1L93.2 648.7L94.3 649.0L95.4 648.8L96.2 649.1L97.3 648.9L100.1 648.8L100.9 649.0L101.2 648.8L102.0 649.1L102.8 648.8L104.2 648.9L105.0 648.7L106.1 649.0L106.9 648.7L107.4 648.7L108.3 649.0L109.9 648.7L111.3 648.9L112.1 648.5L112.9 648.9L114.0 648.7L114.8 648.9L115.9 648.4L116.8 648.6L117.3 649.0L117.8 648.9L118.7 648.4L120.6 648.5L121.7 648.3L122.5 648.6L123.3 648.4L124.4 648.7L126.1 648.2L127.7 648.6L128.2 648.4L129.3 648.4L129.6 648.1L132.3 648.2L132.9 647.8L133.7 648.2L138.6 647.6L139.5 647.8L140.3 647.6L140.8 647.7L141.4 647.6L142.2 647.0L143.3 647.4L143.8 647.2L144.7 647.2L144.9 647.0L145.8 647.1L147.1 646.7L147.9 646.8L148.8 646.4L149.6 646.5L150.1 646.2L150.7 646.5L151.5 646.0L152.6 645.7L154.8 645.5L155.6 645.0L156.1 645.0L157.5 644.5L158.3 644.0L159.2 643.9L160.0 643.4L161.3 643.0L163.0 641.7L163.8 641.4L164.6 640.5L165.4 640.1L167.6 637.6L168.2 637.2L169.0 635.8L170.1 634.6L171.2 632.7L174.2 625.3L176.4 617.0L178.3 606.8L180.5 590.8L184.9 546.9L186.0 537.6L187.3 530.2L187.9 528.9L188.4 528.2L188.7 528.1L189.2 528.6L189.8 529.5L190.3 531.2L191.4 538.0L192.5 547.5L196.1 585.9L198.8 608.0L201.0 619.6L202.1 623.8L204.0 629.7L205.9 634.2L208.9 638.7L210.9 640.5L212.0 641.2L212.8 642.2L215.0 643.1L216.9 644.2L220.4 645.5L221.3 645.4L222.9 646.1L223.2 645.9L223.7 646.0L224.5 646.5L227.0 646.5L227.3 646.8L228.1 646.8L228.6 647.3L230.3 647.3L232.7 647.6L233.3 647.5L233.8 647.9L236.3 647.8L236.8 648.0L239.3 648.0L240.1 648.3L242.3 648.1L243.4 648.3L244.2 648.1L245.1 648.3L245.6 648.2L246.2 648.4L247.0 648.4L248.1 648.6L249.7 648.5L250.5 648.7L251.6 648.4L252.4 648.6L253.0 648.4L254.6 648.9L254.9 648.7L255.5 648.6L256.3 648.8L256.8 648.6L257.1 648.8L257.9 648.6L258.5 648.9L259.6 649.0L260.9 648.7L262.6 649.1L263.4 648.8" fill="none" stroke="#bfbf00" stroke-width="2.20" stroke-linejoin="round" stroke-linecap="round"/>
<path d="M50.0 634.3L53.0 638.4L54.4 639.4L56.0 641.1L56.8 641.4L57.4 641.9L60.1 643.5L60.9 643.4L62.0 644.2L62.9 644.2L64.0 644.9L66.1 645.1L66.7 645.5L69.4 645.9L70.0 646.2L70.8 646.0L72.2 646.2L73.0 646.6L73.5 646.3L74.1 646.4L75.7 646.8L76.3 646.7L77.4 647.0L78.5 646.8L79.8 647.2L80.9 646.7L82.3 647.1L84.2 647.0L85.0 647.2L86.1 647.0L86.9 647.4L88.0 647.2L88.6 647.4L89.4 647.0L89.7 647.2L90.8 647.3L91.3 647.7L92.1 647.3L92.7 647.4L93.0 647.3L94.0 647.3L94.6 647.5L95.4 647.3L97.1 647.3L97.6 647.0L98.4 647.2L99.8 647.2L100.6 647.4L101.4 647.3L102.8 647.5L104.4 647.3L106.1 647.4L106.6 647.2L108.5 647.1L109.4 647.6L110.2 647.3L110.7 647.6L112.1 647.2L113.7 647.6L115.7 647.4L117.0 647.6L118.9 647.4L119.2 647.5L120.0 647.3L121.4 647.6L122.5 647.3L123.9 647.5L124.4 647.4L125.2 647.7L125.5 647.4L126.1 647.3L127.7 647.4L128.5 647.8L129.9 647.5L132.9 647.4L133.7 647.7L134.3 647.5L135.1 647.9L136.4 647.6L137.3 647.7L138.4 647.5L138.6 647.6L139.5 647.5L140.0 647.7L142.2 647.5L143.0 647.8L143.6 647.6L144.4 647.9L145.2 647.6L146.3 647.9L147.4 647.7L148.2 647.8L149.0 647.5L149.9 648.0L151.2 647.5L154.2 647.8L155.3 647.4L156.1 647.8L157.2 647.4L159.4 647.2L161.1 647.6L162.7 647.3L163.5 646.9L164.4 647.1L165.2 646.8L166.8 647.1L168.7 646.5L169.6 646.6L170.4 646.4L171.5 646.6L172.8 646.0L173.4 646.2L175.0 646.1L175.6 645.8L176.9 645.7L178.3 645.0L178.9 645.0L179.1 645.2L180.8 644.1L181.9 644.4L183.2 643.7L183.8 643.7L184.6 643.3L184.9 643.4L185.7 642.8L186.2 642.6L186.5 642.7L187.3 641.9L188.7 641.3L189.5 640.4L191.2 639.5L192.5 638.4L195.5 634.9L197.2 632.2L199.4 627.3L200.5 624.5L202.1 618.6L203.7 611.3L205.7 599.3L207.9 580.8L211.4 544.4L212.5 537.1L213.0 535.2L213.6 534.5L214.1 535.2L214.7 537.1L215.8 544.1L219.9 583.1L222.3 602.5L225.1 617.1L226.7 623.3L229.2 630.4L231.9 635.5L233.6 637.6L234.4 639.0L235.8 640.4L236.0 640.4L236.8 641.4L237.7 641.8L240.1 643.6L242.9 644.8L244.0 645.1L245.3 645.9L249.2 646.7L250.3 647.2L252.2 647.3L253.0 647.7L255.2 647.8L256.3 648.2L257.1 647.9L258.2 648.2L258.5 648.1L259.3 648.5L260.4 648.4L261.7 648.7L262.6 648.5L263.4 648.7" fill="none" stroke="#404040" stroke-width="2.20" stroke-linejoin="round" stroke-linecap="round"/>
<path d="M50.0 629.9L50.8 633.4L51.4 634.6L51.9 634.3L53.3 631.5L53.8 631.0L54.1 631.1L54.7 632.2L56.3 637.0L56.8 637.5L57.4 637.1L58.2 635.6L59.8 631.2L62.6 618.9L64.0 614.5L64.5 613.5L64.8 613.3L65.3 614.6L66.7 621.9L68.6 629.7L69.4 632.2L70.0 633.1L70.2 633.3L70.8 633.1L73.8 629.9L74.9 629.2L75.4 629.4L76.8 631.7L78.2 633.3L78.7 633.7L79.3 633.8L80.1 633.0L82.6 628.7L83.1 628.1L83.4 628.2L83.9 630.1L85.3 637.2L86.7 641.4L87.5 643.4L88.8 645.2L89.9 646.1L92.1 646.7L94.0 646.8L95.1 646.2L96.5 644.9L97.6 642.8L99.0 639.4L101.2 632.3L105.0 616.6L105.5 615.1L106.1 614.6L106.6 615.3L107.2 616.8L109.1 625.2L111.6 641.0L112.6 644.1L114.0 646.6L116.2 648.1L118.1 648.6L126.6 647.6L133.2 647.5L135.6 646.7L137.0 645.6L137.8 644.3L138.9 641.1L140.6 633.1L142.7 616.6L143.3 613.8L143.6 613.3L144.1 614.5L146.3 625.1L147.4 629.5L148.2 632.0L149.6 634.9L150.1 635.1L150.7 634.6L154.0 628.2L154.8 627.0L155.3 626.8L155.6 627.0L156.1 628.1L159.4 638.3L160.2 640.4L161.3 641.9L162.4 642.8L164.1 643.5L165.4 643.7L166.3 643.3L167.6 642.2L171.5 638.5L172.8 636.3L173.7 634.0L174.7 627.1L176.4 604.7L176.9 598.5L177.5 594.5L177.8 594.7L178.0 596.3L181.3 629.8L182.4 637.0L183.2 639.0L184.6 640.9L186.8 642.5L189.2 643.9L191.4 644.7L192.5 645.0L196.4 644.7L201.6 643.0L205.9 641.2L207.6 640.9L209.2 641.6L211.4 643.3L214.4 644.9L217.7 646.3L220.7 647.1L223.2 647.3L230.6 647.3L233.8 647.0L235.5 646.4L236.3 645.8L237.4 644.3L239.6 639.8L242.3 630.4L246.4 617.7L247.5 613.5L248.1 612.2L248.3 612.0L248.6 612.4L249.2 614.1L253.0 632.0L254.1 636.4L255.7 640.4L257.6 643.0L257.9 643.2L258.5 643.1L259.3 643.9L259.6 643.8L259.8 644.4L260.1 644.3L260.4 643.9L260.6 645.1L260.9 645.2L261.2 644.3L261.7 645.1L262.6 644.7L262.8 645.4L263.4 645.1L263.7 645.2L264.2 646.2L264.5 646.1L265.0 646.7L265.6 645.8L265.8 645.6L266.1 646.7L266.9 647.3L267.2 646.7L268.0 646.5L268.6 647.3L268.9 646.8L269.4 647.5L269.7 647.3L270.2 647.8L270.5 647.7L271.0 646.4L271.3 646.7L271.6 646.4L271.9 646.5L272.1 647.4L272.7 647.1L273.2 647.2L273.8 647.9L274.1 647.4L274.3 647.4L274.6 647.1L274.9 646.5L275.1 647.0L276.0 646.2L276.2 646.3L276.5 647.0L276.8 646.7L277.1 646.8L277.6 646.1L277.9 647.4L278.2 647.5L278.4 646.3L279.0 646.8L279.3 646.4L279.5 646.9L280.1 646.0L280.6 646.2L281.4 645.2L282.0 645.7L282.3 645.7L282.8 644.9L283.1 645.3L283.6 644.4L283.9 645.1L284.2 645.1L284.5 644.7L285.0 644.4L285.8 645.1L286.4 644.3L286.6 644.9L286.9 644.8L287.2 644.0L287.5 643.8L287.7 643.9L288.3 643.6L288.6 644.1L288.8 643.3L289.1 643.2L289.4 643.4L289.6 642.2L290.2 642.3L290.5 642.1L291.0 642.7L291.6 641.7L292.4 641.4L293.2 639.8L293.5 640.4L294.0 639.5L294.3 639.8L294.6 639.6L294.8 638.8L295.4 639.0L296.2 637.4L296.5 637.4L296.8 637.0L297.9 634.5L298.4 633.9L298.7 633.3L299.8 631.7L300.3 630.3L300.9 629.6L301.7 625.4L302.2 625.1L305.2 613.2L305.8 609.5L306.9 604.8L307.4 600.6L307.7 602.0L308.5 591.3L309.1 588.2L309.3 581.4L309.6 581.4L309.9 583.2L310.7 575.6L311.3 567.2L312.4 560.0L313.2 549.8L313.4 551.6L314.3 544.5L314.8 533.1L315.1 531.4L315.4 531.2L315.9 527.2L316.2 528.2L316.7 518.7L317.0 517.2L318.6 500.4L318.9 498.3L319.2 498.1L319.7 495.2L320.0 495.1L320.3 493.6L320.8 483.5L321.1 482.5L321.4 482.4L321.9 477.7L322.2 478.7L322.5 477.9L323.0 467.3L323.3 470.0L323.6 470.0L323.8 466.8L324.4 466.0L324.7 464.8L324.9 466.2L325.2 466.0L325.8 466.4L326.0 464.2L326.3 464.8L326.6 464.5L326.9 463.3L327.7 465.8L328.5 460.7L328.8 462.5L329.0 462.4L329.3 459.2L329.9 459.3L330.4 450.2L330.7 452.2L331.0 451.5L331.2 452.8L331.5 452.8L331.8 449.5L332.1 448.5L332.3 450.0L332.6 449.7L333.1 442.1L333.4 443.1L333.7 442.8L334.0 438.9L334.2 438.2L334.8 443.9L335.3 438.5L335.6 440.3L335.9 439.8L336.2 436.2L336.4 435.0L336.7 437.0L337.0 437.2L337.8 428.4L338.1 431.0L338.3 429.3L338.9 430.8L339.2 427.2L339.4 427.5L339.7 429.2L340.0 429.9L340.3 429.2L340.8 423.2L341.1 422.5L341.4 423.4L341.6 420.8L341.9 422.0L342.2 426.4L342.4 426.7L343.3 417.2L343.5 417.6L344.4 426.0L344.6 420.1L345.2 414.8L345.5 414.8L345.7 415.4L346.0 414.4L346.3 418.2L346.6 418.6L346.8 415.5L347.4 418.5L347.6 418.7L347.9 420.9L348.2 421.3L348.5 418.5L349.0 422.7L349.3 421.4L349.6 421.7L349.8 421.4L350.1 421.6L350.4 420.9L350.7 421.2L350.9 421.0L351.2 423.3L351.5 422.7L351.7 420.8L352.0 423.2L352.6 419.3L353.4 421.8L353.7 424.5L353.9 424.5L354.2 423.0L354.5 423.4L355.3 427.3L355.6 425.5L355.9 425.8L356.1 427.4L356.4 427.3L359.4 429.3L361.9 439.6L362.1 439.5L365.7 428.2L366.0 428.5L367.3 434.6L369.3 439.9L370.4 431.3L371.4 426.8L372.5 420.1L373.4 426.8L374.2 431.4L374.5 430.7L376.4 417.4L378.6 425.2L378.8 424.6L380.5 406.9L381.6 408.9L382.4 411.0L384.0 401.3L384.3 400.6L385.1 399.5L386.2 396.9L387.3 402.1L388.4 409.9L389.2 412.6L389.8 404.1L390.3 390.4L390.9 390.4L391.7 402.5L392.5 390.4L394.2 390.4L395.2 398.2L396.3 390.4L397.4 414.3L399.1 390.4L400.7 390.4L401.0 394.1L401.8 421.6L403.7 447.6L405.1 411.2L406.5 429.4L407.6 398.2L408.9 426.8L410.6 454.2L410.8 454.3L412.2 421.6L413.8 403.9L415.5 441.7L416.9 419.1L417.1 423.5L417.7 459.4L418.0 462.0L419.0 432.0L420.1 429.4L421.2 455.4L422.1 425.5L423.2 401.9L424.0 442.4L424.8 447.6L425.6 421.6L426.4 500.0L427.3 463.1L427.8 447.2L428.1 447.6L428.6 473.5L428.9 481.0L429.4 488.4L430.3 457.9L431.1 448.2L432.2 481.7L432.5 469.3L433.0 390.4" fill="none" stroke="#0000ff" stroke-width="2.20" stroke-linejoin="round" stroke-linecap="round"/>
<text x="50.00" y="665.00" class="tk" text-anchor="middle">400</text>
<text x="104.71" y="665.00" class="tk" text-anchor="middle">500</text>
<text x="159.43" y="665.00" class="tk" text-anchor="middle">600</text>
<text x="214.14" y="665.00" class="tk" text-anchor="middle">700</text>
<text x="268.86" y="665.00" class="tk" text-anchor="middle">800</text>
<text x="323.57" y="665.00" class="tk" text-anchor="middle">900</text>
<text x="378.29" y="665.00" class="tk" text-anchor="middle">1000</text>
<text x="433.00" y="665.00" class="tk" text-anchor="middle">1100</text>
<text x="47.50" y="655.60" class="tk" text-anchor="end">0</text>
<text x="47.50" y="603.64" class="tk" text-anchor="end">20</text>
<text x="47.50" y="551.68" class="tk" text-anchor="end">40</text>
<text x="47.50" y="499.72" class="tk" text-anchor="end">60</text>
<text x="47.50" y="447.76" class="tk" text-anchor="end">80</text>
<text x="47.50" y="395.80" class="tk" text-anchor="end">100</text>
<text x="241.50" y="680.50" class="tk" text-anchor="middle" style="font-size:13.77px">Wavelength (nm)</text>
<text transform="translate(19.00,521.10) rotate(-90)" class="tk" text-anchor="middle" style="font-size:13.90px">Filter transmittance (%)</text>
<rect x="361.50" y="463.70" width="38.50" height="143.50" fill="#fff" stroke="#6e6e6e" stroke-width="1"/>
<line x1="364.10" y1="472.80" x2="378.30" y2="472.80" stroke="#0000ff" stroke-width="2"/>
<text x="380.40" y="477.80" class="tk">P1</text>
<line x1="364.10" y1="490.60" x2="378.30" y2="490.60" stroke="#008000" stroke-width="2"/>
<text x="380.40" y="495.60" class="tk">P2</text>
<line x1="364.10" y1="508.40" x2="378.30" y2="508.40" stroke="#ff0000" stroke-width="2"/>
<text x="380.40" y="513.40" class="tk">P3</text>
<line x1="364.10" y1="526.20" x2="378.30" y2="526.20" stroke="#00bfbf" stroke-width="2"/>
<text x="380.40" y="531.20" class="tk">P4</text>
<line x1="364.10" y1="544.00" x2="378.30" y2="544.00" stroke="#bf00bf" stroke-width="2"/>
<text x="380.40" y="549.00" class="tk">P5</text>
<line x1="364.10" y1="561.80" x2="378.30" y2="561.80" stroke="#bfbf00" stroke-width="2"/>
<text x="380.40" y="566.80" class="tk">P6</text>
<line x1="364.10" y1="579.60" x2="378.30" y2="579.60" stroke="#404040" stroke-width="2"/>
<text x="380.40" y="584.60" class="tk">P7</text>
<line x1="364.10" y1="597.40" x2="378.30" y2="597.40" stroke="#0000ff" stroke-width="2"/>
<text x="380.40" y="602.40" class="tk">IR</text>
<line x1="657.29" y1="390.40" x2="657.29" y2="649.70" class="grid"/>
<line x1="711.97" y1="390.40" x2="711.97" y2="649.70" class="grid"/>
<line x1="766.66" y1="390.40" x2="766.66" y2="649.70" class="grid"/>
<line x1="821.34" y1="390.40" x2="821.34" y2="649.70" class="grid"/>
<line x1="876.03" y1="390.40" x2="876.03" y2="649.70" class="grid"/>
<line x1="930.71" y1="390.40" x2="930.71" y2="649.70" class="grid"/>
<line x1="602.60" y1="597.84" x2="985.40" y2="597.84" class="grid"/>
<line x1="602.60" y1="545.98" x2="985.40" y2="545.98" class="grid"/>
<line x1="602.60" y1="494.12" x2="985.40" y2="494.12" class="grid"/>
<line x1="602.60" y1="442.26" x2="985.40" y2="442.26" class="grid"/>
<line x1="602.60" y1="390.40" x2="602.60" y2="649.70" class="ax"/>
<line x1="602.60" y1="649.70" x2="985.40" y2="649.70" class="ax"/>
<line x1="602.60" y1="390.40" x2="985.40" y2="390.40" class="ax"/>
<line x1="985.40" y1="390.40" x2="985.40" y2="649.70" class="ax"/>
<line x1="602.60" y1="649.70" x2="602.60" y2="645.90" class="ax"/>
<line x1="602.60" y1="390.40" x2="602.60" y2="394.20" class="ax"/>
<line x1="657.29" y1="649.70" x2="657.29" y2="645.90" class="ax"/>
<line x1="657.29" y1="390.40" x2="657.29" y2="394.20" class="ax"/>
<line x1="711.97" y1="649.70" x2="711.97" y2="645.90" class="ax"/>
<line x1="711.97" y1="390.40" x2="711.97" y2="394.20" class="ax"/>
<line x1="766.66" y1="649.70" x2="766.66" y2="645.90" class="ax"/>
<line x1="766.66" y1="390.40" x2="766.66" y2="394.20" class="ax"/>
<line x1="821.34" y1="649.70" x2="821.34" y2="645.90" class="ax"/>
<line x1="821.34" y1="390.40" x2="821.34" y2="394.20" class="ax"/>
<line x1="876.03" y1="649.70" x2="876.03" y2="645.90" class="ax"/>
<line x1="876.03" y1="390.40" x2="876.03" y2="394.20" class="ax"/>
<line x1="930.71" y1="649.70" x2="930.71" y2="645.90" class="ax"/>
<line x1="930.71" y1="390.40" x2="930.71" y2="394.20" class="ax"/>
<line x1="985.40" y1="649.70" x2="985.40" y2="645.90" class="ax"/>
<line x1="985.40" y1="390.40" x2="985.40" y2="394.20" class="ax"/>
<line x1="602.60" y1="649.70" x2="606.40" y2="649.70" class="ax"/>
<line x1="985.40" y1="649.70" x2="981.60" y2="649.70" class="ax"/>
<line x1="602.60" y1="597.84" x2="606.40" y2="597.84" class="ax"/>
<line x1="985.40" y1="597.84" x2="981.60" y2="597.84" class="ax"/>
<line x1="602.60" y1="545.98" x2="606.40" y2="545.98" class="ax"/>
<line x1="985.40" y1="545.98" x2="981.60" y2="545.98" class="ax"/>
<line x1="602.60" y1="494.12" x2="606.40" y2="494.12" class="ax"/>
<line x1="985.40" y1="494.12" x2="981.60" y2="494.12" class="ax"/>
<line x1="602.60" y1="442.26" x2="606.40" y2="442.26" class="ax"/>
<line x1="985.40" y1="442.26" x2="981.60" y2="442.26" class="ax"/>
<line x1="602.60" y1="390.40" x2="606.40" y2="390.40" class="ax"/>
<line x1="985.40" y1="390.40" x2="981.60" y2="390.40" class="ax"/>
<path d="M602.6 602.2L604.2 595.5L606.4 584.7L613.3 545.2L615.5 537.4L616.5 535.9L617.4 535.8L618.5 536.4L619.0 537.6L619.8 539.9L620.9 545.1L622.6 555.5L625.6 579.4L628.0 596.7L630.5 610.1L632.7 618.8L634.0 623.1L635.7 627.3L639.2 633.8L641.7 636.9L643.6 638.7L644.7 639.1L645.5 639.9L645.8 639.9L648.8 642.0L649.6 642.2L651.5 643.1L652.4 643.2L653.2 643.8L654.0 643.8L655.9 644.5L656.7 644.5L658.1 645.1L658.9 644.9L659.7 645.3L660.8 645.4L661.7 645.6L662.8 645.5L663.6 645.9L666.9 646.0L668.2 646.5L669.0 646.3L670.4 646.7L672.1 646.6L672.9 646.9L673.7 646.7L674.2 646.9L674.8 646.8L675.6 647.0L676.4 646.9L677.8 647.0L678.3 647.3L679.2 647.3L679.4 647.4L680.5 647.1L681.1 647.4L682.2 647.2L683.0 647.3L683.8 647.1L684.9 647.5L686.3 647.4L687.1 647.7L689.0 647.4L690.6 647.7L692.3 647.5L693.9 647.8L695.0 647.8L695.3 647.6L696.4 647.9L697.5 647.6L698.6 647.5L699.1 647.9L701.3 647.7L703.8 648.0L704.6 647.7L705.1 648.0L706.0 647.8L706.8 647.8L707.6 648.2L708.4 647.9L709.2 647.9L710.1 648.1L711.4 647.7L712.2 648.0L714.7 647.9L715.5 648.1L716.1 648.0L717.4 648.3L717.7 648.1L718.8 648.2L720.7 647.9L722.6 648.1L723.2 647.9L724.0 648.1L724.8 647.9L725.6 648.3L727.0 648.0L727.8 648.3L728.1 648.1L728.9 648.2L729.7 648.0L730.6 648.2L732.8 648.1L733.3 648.2L734.1 648.0L735.2 648.2L737.1 648.1L737.7 648.2L738.2 648.0L739.9 648.3L741.5 648.1L742.6 648.5L743.4 648.2L744.0 648.4L744.8 648.2L745.6 648.3L746.1 648.0L748.1 648.3L750.5 648.2L751.3 648.4L752.7 648.2L755.2 648.4L755.7 648.2L756.3 648.4L757.1 648.1L759.8 648.3L760.4 648.2L761.2 648.4L762.0 648.1L762.6 648.3L763.4 648.1L765.3 648.4L765.8 648.2L767.2 648.6L768.0 648.3L769.4 648.2L770.8 648.4L772.4 648.3L774.0 648.5L775.7 648.3L776.5 648.6L777.6 648.3L778.4 648.6L781.7 648.4L783.1 648.7L783.9 648.4L785.5 648.7L786.3 648.5L787.4 648.7L789.4 648.5L789.9 648.7L790.4 648.5L792.9 648.7L796.2 648.5L797.0 648.6L797.6 648.4L799.7 648.8L801.4 648.6L802.2 648.8L803.0 648.6L806.0 648.8L806.9 648.6L807.9 648.6L808.5 648.8L812.0 648.6L812.6 648.8L815.9 648.7" fill="none" stroke="#0000ff" stroke-width="2.20" stroke-linejoin="round" stroke-linecap="round"/>
<path d="M602.6 637.9L603.1 637.7L604.0 636.9L604.5 636.8L605.3 636.2L606.2 636.1L608.9 634.0L609.2 634.0L609.7 633.7L610.5 632.6L611.3 632.4L612.2 631.3L613.0 631.1L613.3 630.9L613.8 630.0L616.5 627.0L620.4 621.4L622.0 618.1L624.7 611.2L627.2 602.3L629.9 588.5L632.4 570.8L637.1 530.3L638.4 523.6L639.0 522.6L639.2 522.5L639.5 522.5L640.1 524.0L641.4 532.1L646.3 581.8L648.5 598.6L650.5 609.5L651.8 615.8L653.2 620.5L655.6 627.3L658.1 631.8L658.9 632.7L660.0 634.6L661.1 636.1L661.9 636.4L662.8 637.6L663.6 638.3L665.2 639.3L666.6 640.4L667.9 641.0L669.6 642.1L670.7 642.3L672.6 643.4L673.4 643.3L674.5 644.0L675.3 643.9L677.2 644.6L677.8 644.4L679.2 644.9L680.3 644.9L681.1 645.4L683.8 645.6L685.4 646.2L686.0 646.0L687.9 646.3L688.7 646.6L689.6 646.4L689.8 646.6L691.2 646.5L692.6 646.6L692.8 646.8L693.4 646.8L693.7 646.7L694.5 647.0L694.7 646.9L695.8 646.9L697.5 647.2L698.3 647.2L698.6 647.3L700.2 647.4L700.8 647.2L701.6 647.4L704.3 647.4L705.4 647.7L707.3 647.5L708.4 647.7L710.1 647.6L710.9 647.9L711.7 647.6L712.5 647.9L713.9 647.9L714.7 647.7L715.8 648.0L718.3 647.9L719.1 648.2L719.9 648.0L720.7 648.2L721.5 647.9L722.6 648.1L723.5 648.0L724.3 648.1L724.5 647.9L725.4 648.2L725.9 648.1L726.7 648.4L727.8 648.1L728.9 648.1L729.7 648.2L731.1 648.1L731.9 648.4L733.3 648.1L733.8 648.5L734.7 648.2L735.2 648.4L736.0 648.3L737.7 648.5L737.9 648.4L739.6 648.4L741.5 648.7L743.1 648.3L744.0 648.5L744.5 648.4L745.3 648.7L746.4 648.4L748.3 648.6L752.2 648.4L755.2 648.7L756.3 648.4L757.1 648.7L757.9 648.5L758.7 648.6L759.0 648.4L760.4 648.9L761.2 648.9L762.8 648.6L763.6 648.9L765.3 648.5L765.8 648.7L767.2 648.8L768.0 648.5L769.1 648.9L770.2 648.9L771.0 648.6L772.7 649.0L776.5 648.7L777.3 649.0L777.9 648.8L778.7 649.0L780.3 648.7L780.6 648.9L782.8 649.1L783.9 648.7L785.8 648.9L786.6 648.7L788.5 649.2L789.4 648.8L791.3 649.0L792.1 648.8L796.5 648.8L797.3 649.1L798.9 648.9L801.4 649.1L804.9 648.9L806.0 649.1L806.3 648.9L807.1 649.1L811.0 649.0L812.0 649.1L812.9 649.0L813.7 649.2L815.3 649.0L815.9 649.1" fill="none" stroke="#008000" stroke-width="2.20" stroke-linejoin="round" stroke-linecap="round"/>
<path d="M602.6 640.7L605.6 640.3L607.0 640.1L607.2 639.8L608.1 640.0L608.3 639.8L611.1 639.7L612.2 639.2L613.8 639.3L618.2 638.3L620.4 638.1L621.7 637.6L622.0 637.9L623.9 637.1L625.0 637.2L627.8 636.0L629.4 636.0L631.3 635.1L632.1 635.0L632.7 634.4L633.5 634.6L635.7 633.2L636.5 633.0L638.7 631.9L639.8 631.1L640.9 629.9L641.7 629.5L644.4 626.0L646.1 623.1L648.8 616.5L650.2 611.7L651.8 604.4L653.2 596.9L654.3 589.9L655.9 577.0L660.3 536.1L661.7 527.9L662.2 526.2L662.5 525.8L662.8 525.8L663.6 527.6L664.7 533.9L669.6 582.7L671.8 599.5L674.2 613.0L676.4 621.2L679.2 628.3L682.7 634.3L686.3 638.3L688.2 639.7L689.0 640.0L689.6 640.7L690.4 640.8L691.2 641.5L692.8 642.0L693.9 642.7L694.7 642.7L695.3 643.2L697.8 643.7L700.8 644.6L702.4 644.8L702.9 645.2L704.6 645.3L706.0 645.7L709.5 646.1L710.3 646.4L711.2 646.3L714.2 646.7L715.0 646.5L715.8 646.9L716.6 646.9L717.4 646.6L719.1 647.1L719.6 646.9L721.3 647.1L721.8 647.4L723.2 647.2L724.3 647.6L725.1 647.3L726.2 647.6L727.3 647.4L729.2 647.7L730.3 647.5L732.8 647.8L733.6 647.6L734.7 647.6L735.8 647.9L737.4 647.6L738.8 648.0L739.0 648.2L739.9 648.0L741.2 648.1L741.5 647.9L743.1 648.0L744.2 648.2L745.3 647.9L745.9 648.1L747.2 648.0L748.3 648.3L749.2 648.0L750.0 648.5L750.8 648.2L753.8 648.5L754.6 648.2L755.7 648.5L756.8 648.3L757.6 648.5L758.5 648.2L759.3 648.7L759.8 648.5L760.9 648.7L761.7 648.3L763.4 648.6L764.2 648.4L765.3 648.5L765.6 648.4L766.7 648.5L767.5 648.3L769.9 648.7L771.9 648.6L772.9 648.9L774.3 648.6L775.4 648.8L776.0 648.6L776.5 648.8L777.3 648.6L777.9 648.7L778.7 648.5L779.5 648.7L784.2 648.7L786.9 648.9L789.4 648.6L790.7 648.9L791.8 648.7L792.9 649.0L793.7 648.7L794.3 648.7L795.6 648.8L796.5 649.0L797.0 648.8L800.8 649.0L802.2 648.8L803.6 649.0L804.7 648.9L807.9 649.0L808.8 648.9L809.6 649.1L810.4 648.9L811.5 649.2L814.0 648.9L815.9 649.1" fill="none" stroke="#ff0000" stroke-width="2.20" stroke-linejoin="round" stroke-linecap="round"/>
<path d="M602.6 645.0L605.3 644.9L605.9 644.6L606.7 644.9L608.9 644.5L611.3 644.5L612.2 644.1L612.4 644.2L614.6 644.2L615.5 643.9L616.3 644.1L617.9 644.0L619.6 643.6L620.4 643.9L621.5 643.3L622.8 643.7L623.9 643.1L624.7 643.4L625.6 643.0L629.9 643.0L631.9 642.5L633.0 642.6L634.6 642.1L635.4 642.5L636.2 641.9L636.5 642.0L637.3 641.9L638.1 641.6L639.5 641.7L640.9 641.3L641.4 641.4L643.6 641.1L644.2 641.2L645.0 640.8L646.3 640.9L648.0 640.3L648.8 640.3L649.6 639.9L650.7 640.0L651.5 639.7L652.9 639.7L654.0 639.4L655.4 638.7L657.0 638.5L657.3 638.2L658.7 637.9L659.5 637.5L660.0 637.6L660.6 637.1L662.5 636.2L663.3 635.6L663.6 635.6L664.9 634.5L667.1 633.3L669.0 631.0L670.1 630.3L671.2 628.8L671.8 628.4L674.5 623.6L676.7 618.4L678.9 611.4L680.8 602.8L682.4 592.8L684.1 579.7L687.4 546.7L688.7 534.8L689.6 530.5L690.1 529.0L690.4 528.8L691.2 530.5L692.3 537.0L697.5 588.7L699.4 602.8L701.0 611.9L702.9 619.7L705.4 627.1L708.1 632.5L711.2 636.5L712.0 637.1L712.8 638.1L715.3 639.8L716.1 640.6L717.4 641.4L719.1 641.9L719.9 642.5L721.3 642.9L722.1 643.3L722.9 643.4L723.5 643.7L724.0 643.7L726.5 644.7L728.9 644.9L729.7 645.6L730.3 645.3L731.1 645.5L731.7 645.5L734.9 646.1L737.4 646.4L737.7 646.2L738.5 646.5L739.6 646.5L740.7 646.8L742.6 646.7L744.2 647.1L745.6 647.0L746.4 647.3L747.5 647.1L750.3 647.4L751.1 647.7L751.9 647.5L753.0 647.7L754.1 647.4L754.9 647.7L755.7 647.6L756.5 647.9L757.4 647.6L758.5 648.1L759.8 647.8L761.2 648.1L762.0 647.8L762.3 648.0L762.8 648.2L763.6 648.0L765.3 648.2L765.6 647.9L767.2 648.3L767.8 648.0L769.4 648.3L770.8 648.3L771.0 648.1L774.3 648.5L775.1 648.3L777.9 648.5L779.2 648.3L782.0 648.7L783.6 648.5L784.7 648.8L785.5 648.5L787.4 648.7L788.3 648.5L789.1 648.6L791.8 648.6L793.2 648.9L794.0 648.5L796.5 648.8L797.3 648.7L797.8 648.9L798.9 648.7L800.8 648.9L801.9 648.7L802.5 648.8L803.3 648.7L804.1 649.0L804.9 648.9L806.0 649.0L808.8 648.8L809.9 649.0L812.0 648.9L813.4 649.1L815.9 648.9" fill="none" stroke="#00bfbf" stroke-width="2.20" stroke-linejoin="round" stroke-linecap="round"/>
<path d="M602.6 642.1L603.7 642.9L604.5 642.9L605.1 643.1L606.2 643.9L607.0 643.8L608.9 644.6L609.7 644.7L610.5 645.1L611.3 644.9L612.2 645.4L613.0 645.3L615.2 645.9L617.9 646.1L619.3 646.5L620.1 646.2L620.6 646.2L621.2 646.7L622.0 646.4L622.8 646.6L623.7 646.5L624.5 646.7L625.0 646.6L626.4 646.8L628.3 646.7L629.1 647.0L631.0 646.7L631.9 646.9L632.7 646.5L633.5 646.9L634.3 646.6L635.4 646.8L636.2 646.5L637.1 646.8L637.9 646.5L639.2 646.8L640.1 646.5L640.9 646.9L642.0 646.4L643.3 646.7L643.6 646.6L643.9 646.8L645.0 646.3L646.1 646.7L647.4 646.0L648.0 646.3L648.8 646.1L649.6 646.3L649.9 646.0L650.7 646.3L651.8 645.8L652.6 646.1L654.0 645.9L654.6 646.0L655.1 645.7L656.7 645.8L657.3 645.6L658.4 645.7L659.2 645.5L659.5 645.7L660.3 645.2L661.9 645.3L662.8 645.0L663.0 645.1L663.8 644.9L664.4 645.0L665.8 644.6L666.6 644.8L667.1 644.4L667.9 644.6L668.5 644.2L669.3 644.2L669.6 644.0L671.0 644.1L671.8 643.7L672.9 643.7L675.1 643.0L675.9 643.1L677.2 642.6L677.8 642.6L678.1 642.7L678.9 642.1L680.0 642.0L680.8 641.5L681.6 641.4L682.2 641.0L684.4 640.4L686.3 639.0L687.6 638.5L688.5 637.7L690.9 636.4L692.3 634.8L693.1 634.3L693.9 633.1L695.3 631.9L698.3 626.9L699.4 624.7L701.3 619.7L703.2 612.9L705.4 602.3L707.3 589.4L712.5 543.6L713.6 538.5L713.9 537.9L714.4 537.6L715.0 538.8L715.3 539.9L716.1 544.6L720.7 589.3L722.4 601.7L724.3 612.7L726.5 621.7L728.4 627.3L730.8 632.6L733.8 636.6L736.9 639.6L739.3 641.2L740.1 641.4L741.0 642.2L741.8 642.3L744.5 643.6L745.1 643.5L746.4 643.9L747.8 644.7L750.8 645.4L751.3 645.3L752.4 645.8L753.3 645.6L754.6 646.2L755.2 646.0L756.0 646.3L757.1 646.2L758.5 646.6L759.5 646.6L760.6 646.8L760.9 646.6L762.6 647.1L764.5 647.0L765.0 647.2L766.9 647.3L767.8 647.5L772.4 647.6L773.2 647.8L774.0 647.6L775.4 648.1L778.1 648.0L778.7 648.2L780.6 647.9L782.5 648.2L785.8 648.1L786.9 648.6L788.5 648.4L789.4 648.7L790.7 648.2L792.1 648.5L792.9 648.4L793.7 648.7L794.3 648.5L795.4 648.4L796.2 648.6L798.1 648.5L800.0 648.7L802.2 648.5L803.0 648.8L805.8 648.6L806.6 648.8L810.4 648.7L812.6 648.9L813.4 648.7L815.1 649.1L815.9 648.9" fill="none" stroke="#bf00bf" stroke-width="2.20" stroke-linejoin="round" stroke-linecap="round"/>
<path d="M602.6 639.2L604.5 640.8L605.1 641.0L605.9 641.8L606.7 642.1L607.5 643.0L608.1 643.1L608.6 643.5L609.4 643.6L610.5 644.5L611.3 644.5L611.9 645.0L612.7 645.1L613.5 645.6L614.4 645.6L615.5 646.1L616.8 646.3L619.0 647.0L619.8 646.7L621.7 647.3L623.1 647.5L623.7 647.4L624.5 647.7L626.4 647.6L627.2 648.0L628.3 647.9L631.0 648.2L631.9 648.0L633.0 648.3L636.2 648.1L637.1 648.4L637.3 648.2L639.0 648.3L640.3 648.2L640.9 648.5L643.6 648.4L644.7 648.6L645.8 648.2L646.9 648.5L648.0 648.4L648.8 648.7L649.9 648.4L652.6 648.3L653.5 648.6L654.0 648.4L654.6 648.7L655.4 648.4L656.7 648.5L657.6 648.3L658.7 648.6L659.5 648.3L660.0 648.3L660.8 648.6L662.5 648.3L663.8 648.5L664.7 648.2L665.5 648.5L666.6 648.3L667.4 648.5L668.5 648.1L669.3 648.2L669.9 648.6L671.2 648.1L673.1 648.2L674.2 648.0L675.1 648.3L675.9 648.1L677.0 648.4L678.6 647.9L680.3 648.3L680.8 648.1L681.9 648.1L682.2 647.8L684.9 647.9L685.4 647.6L686.3 647.9L691.2 647.4L692.0 647.6L693.4 647.5L693.9 647.4L694.7 646.9L695.8 647.2L699.7 646.6L700.5 646.7L701.3 646.4L702.1 646.5L702.7 646.2L703.2 646.5L705.1 645.8L707.3 645.6L708.1 645.1L708.7 645.2L710.1 644.8L710.9 644.3L711.7 644.2L712.5 643.7L713.9 643.4L715.5 642.3L716.3 642.1L717.2 641.2L718.0 640.9L720.2 638.7L720.7 638.4L721.5 637.2L722.6 636.2L723.7 634.5L726.7 628.2L728.9 621.0L730.8 612.3L733.0 598.6L737.4 561.2L738.5 553.3L739.9 547.1L740.4 546.1L741.0 545.5L741.2 545.5L742.3 546.9L742.9 548.4L744.0 554.5L745.1 562.7L748.6 595.7L751.3 614.5L753.5 624.4L754.6 628.0L756.5 632.9L758.5 636.7L761.5 640.4L763.4 642.0L764.5 642.5L765.3 643.3L767.5 644.1L769.4 645.1L772.9 646.1L773.8 646.0L775.4 646.6L775.7 646.4L776.2 646.5L777.0 646.9L779.5 647.0L780.6 647.2L781.1 647.6L782.8 647.6L785.3 647.9L785.8 647.8L786.3 648.0L788.8 648.0L792.6 648.4L798.1 648.3L798.6 648.5L803.0 648.7L805.5 648.6L807.1 648.9L807.4 648.7L808.8 648.9L809.3 648.7L812.0 649.0L813.4 648.8L815.1 649.1L815.9 648.9" fill="none" stroke="#bfbf00" stroke-width="2.20" stroke-linejoin="round" stroke-linecap="round"/>
<path d="M602.6 635.7L604.8 638.1L605.6 639.2L607.0 640.0L608.6 641.5L609.4 641.7L610.0 642.2L612.7 643.6L613.5 643.4L614.6 644.1L615.5 644.1L616.5 644.7L618.7 645.0L619.3 645.3L622.0 645.6L622.6 645.9L623.4 645.8L624.7 645.9L625.6 646.2L626.1 646.0L626.7 646.0L628.3 646.5L628.8 646.4L629.9 646.6L631.0 646.5L632.4 646.8L633.5 646.4L634.9 646.7L636.8 646.6L637.6 646.8L638.7 646.6L639.5 647.0L640.6 646.8L641.2 647.0L642.0 646.6L643.3 646.9L643.9 647.3L644.7 646.9L645.3 647.0L645.5 646.9L646.6 646.9L647.2 647.1L648.0 646.9L649.6 647.0L650.2 646.7L653.2 647.1L654.0 647.0L655.4 647.2L657.0 647.0L658.7 647.1L659.2 646.9L661.1 646.8L661.9 647.3L662.8 647.0L663.3 647.3L664.7 647.0L666.3 647.4L668.2 647.1L669.0 647.3L671.5 647.1L671.8 647.3L672.6 647.1L674.0 647.4L675.1 647.1L676.4 647.3L677.0 647.2L677.8 647.4L678.6 647.2L680.3 647.2L681.1 647.6L682.4 647.3L685.4 647.3L686.3 647.5L686.8 647.3L687.6 647.7L689.0 647.4L689.8 647.5L690.9 647.3L692.6 647.5L694.7 647.3L695.6 647.6L696.1 647.5L696.9 647.7L697.8 647.4L698.8 647.7L699.9 647.5L700.8 647.6L701.6 647.3L702.4 647.7L703.8 647.3L706.8 647.6L707.9 647.3L708.7 647.6L709.8 647.3L712.0 647.1L713.6 647.4L715.3 647.2L716.1 646.8L716.9 647.0L717.7 646.8L719.4 647.0L721.3 646.4L724.0 646.6L725.4 646.1L725.9 646.2L727.6 646.1L728.1 645.9L729.5 645.8L730.8 645.2L731.7 645.4L733.3 644.5L734.4 644.7L735.8 644.1L736.3 644.2L737.1 643.8L737.4 643.9L738.2 643.4L739.0 643.3L739.9 642.6L741.2 642.1L742.0 641.4L745.1 639.7L748.1 636.8L749.7 634.6L751.9 630.7L753.0 628.4L754.6 623.6L755.7 620.0L756.8 615.3L758.7 604.9L760.4 593.6L763.1 571.2L764.2 563.7L765.0 560.0L765.6 558.6L766.1 558.3L766.7 559.0L767.2 560.7L768.3 566.6L772.4 598.1L774.9 613.5L777.6 624.9L779.2 629.8L781.7 635.2L784.4 639.1L786.1 640.7L786.9 641.8L789.4 643.5L792.6 645.2L797.8 646.8L802.7 647.8L807.7 648.2L808.8 648.5L809.6 648.3L811.8 648.7L815.9 648.8" fill="none" stroke="#404040" stroke-width="2.20" stroke-linejoin="round" stroke-linecap="round"/>
<path d="M602.6 631.9L603.4 634.9L604.0 635.9L604.5 635.6L605.9 633.0L606.4 632.5L606.7 632.6L607.2 633.5L608.9 637.7L609.4 638.1L610.0 637.8L610.8 636.4L612.4 632.2L615.2 620.7L616.5 616.4L617.1 615.4L617.4 615.3L617.9 616.4L619.3 623.2L621.2 630.4L622.0 632.7L622.6 633.6L622.8 633.7L623.4 633.5L626.4 630.3L627.5 629.6L628.0 629.8L629.4 631.9L630.8 633.4L631.3 633.8L631.9 633.9L632.7 633.1L635.1 628.9L635.7 628.4L636.0 628.5L636.5 630.2L637.9 637.1L639.2 641.2L640.1 643.1L641.4 644.8L642.5 645.7L644.7 646.3L646.6 646.4L647.7 645.9L649.1 644.6L651.3 640.2L653.7 632.9L657.6 618.4L658.1 617.1L658.7 616.7L659.2 617.3L659.7 618.8L661.7 626.7L664.1 641.2L665.2 644.1L666.6 646.4L668.8 647.8L670.7 648.3L679.2 647.4L685.7 647.3L688.2 646.6L689.6 645.7L690.4 644.5L691.5 641.7L693.1 634.7L695.3 620.3L695.8 617.8L696.1 617.4L696.7 618.5L698.8 627.7L699.9 631.6L700.8 633.8L702.1 636.3L702.7 636.5L703.2 636.1L706.5 630.5L707.3 629.5L707.9 629.3L708.7 630.4L712.0 639.4L712.8 641.2L713.9 642.4L715.0 643.2L716.6 643.9L718.0 644.0L718.8 643.7L720.2 642.7L724.0 639.6L725.4 637.7L726.2 635.7L727.3 629.7L728.9 610.4L729.5 605.0L730.0 601.6L730.3 601.8L730.6 603.2L733.8 632.2L734.9 638.4L735.8 640.1L737.1 641.7L738.8 642.8L741.2 644.1L744.8 645.3L748.6 645.1L754.1 643.8L757.9 642.5L760.1 642.1L761.7 642.8L763.6 644.0L766.7 645.4L769.9 646.6L772.7 647.2L775.4 647.5L781.7 647.6L786.1 647.5L787.7 647.1L788.5 646.8L789.4 646.2L791.8 643.0L794.8 636.3L798.9 628.3L800.0 625.7L800.6 624.9L800.8 624.9L801.7 626.4L805.5 638.2L806.6 641.0L808.2 643.6L810.1 645.3L811.0 645.4L811.8 645.9L812.0 645.9L812.3 646.2L812.9 645.9L813.1 646.6L813.4 646.7L813.7 646.2L814.2 646.7L815.1 646.5L815.3 646.9L815.9 646.7L816.1 646.8L816.7 647.4L817.0 647.3L817.5 647.7L818.3 647.1L818.6 647.7L819.4 648.1L819.7 647.7L820.5 647.6L821.1 648.1L821.3 647.8L821.9 648.2L822.2 648.1L822.7 648.4L823.0 648.3L823.5 647.6L824.4 647.7L824.6 648.2L825.7 648.1L826.3 648.5L827.4 647.8L827.6 648.1L828.5 647.7L829.0 648.1L829.5 648.0L830.1 647.6L830.4 648.3L830.6 648.3L830.9 647.8L831.5 648.0L831.7 647.8L832.0 648.1L832.6 647.6L833.1 647.8L833.9 647.3L834.7 647.6L835.3 647.2L835.6 647.4L836.1 647.0L836.4 647.3L837.5 647.1L838.3 647.4L838.8 647.1L839.1 647.3L839.4 647.3L839.7 646.9L840.5 646.8L840.8 646.8L841.0 647.1L841.3 646.7L841.9 646.8L842.1 646.2L842.9 646.2L843.5 646.5L844.0 646.1L844.9 646.0L845.7 645.3L846.0 645.6L846.5 645.2L847.0 645.3L847.3 644.9L847.9 645.0L848.7 644.3L849.2 644.2L850.3 643.1L850.9 642.9L853.3 641.0L854.2 639.2L854.7 639.0L855.5 637.7L857.7 633.8L858.3 632.2L859.3 630.1L859.9 628.3L860.2 628.9L861.0 624.3L861.5 623.0L861.8 620.1L862.1 620.1L862.4 620.9L863.2 617.7L863.7 614.1L864.8 611.2L865.6 606.9L865.9 607.8L866.7 604.8L867.3 600.1L867.6 599.4L867.8 599.4L868.4 597.8L868.6 598.2L869.2 594.3L869.5 593.8L871.1 587.0L871.4 586.2L871.7 586.1L872.2 585.0L872.5 585.0L872.7 584.4L873.3 580.3L873.6 579.9L873.8 580.0L874.4 578.1L874.7 578.5L874.9 578.3L875.5 574.0L875.8 575.2L876.0 575.2L876.3 573.9L876.8 573.8L877.1 573.3L877.4 574.0L878.2 574.3L878.5 573.5L878.8 573.8L879.0 573.8L879.3 573.4L880.1 574.8L881.0 573.2L881.2 574.0L881.5 574.2L881.8 573.1L882.3 573.5L882.9 570.3L883.1 571.2L883.4 571.2L883.7 571.9L884.0 572.2L884.2 571.1L884.5 570.9L884.8 571.7L885.1 571.9L885.6 569.4L885.9 570.1L886.1 570.2L886.4 569.0L886.7 569.0L887.2 571.7L887.8 570.3L888.1 571.3L888.3 571.4L888.6 570.4L888.9 570.3L889.4 571.9L890.2 569.9L890.5 571.2L890.8 571.0L891.3 572.4L891.6 571.6L892.4 573.9L892.7 574.2L893.0 573.3L893.3 573.1L893.5 573.3L893.8 574.2L894.1 573.8L894.6 576.7L894.9 577.3L895.7 576.1L896.8 581.6L897.1 580.6L897.4 580.3L897.6 580.5L898.4 582.8L899.0 585.5L899.3 585.4L900.4 589.7L900.6 590.5L900.9 590.4L901.5 592.6L903.4 595.5L903.6 596.4L903.9 596.5L904.2 596.4L904.5 597.2L905.0 596.9L905.8 598.2L906.1 599.0L906.4 599.2L906.7 599.1L906.9 599.4L907.7 600.9L908.0 600.7L908.6 601.5L911.8 604.5L914.3 609.0L918.1 611.0L921.7 617.2L922.8 617.4L925.0 619.1L926.6 622.8L926.9 623.1L928.8 623.9L931.0 626.8L931.3 626.9L932.9 626.4L934.8 628.0L936.5 628.1L938.6 629.0L941.7 631.9L941.9 631.9L942.7 631.0L943.3 631.3L944.1 632.6L944.9 632.3L946.6 633.3L947.7 634.5L948.8 634.7L949.9 636.6L951.5 636.2L953.1 637.1L954.2 639.2L956.1 641.2L957.5 640.3L958.9 641.7L960.0 641.1L961.3 642.6L963.0 644.1L963.3 644.2L964.6 643.7L966.3 643.8L967.9 645.1L969.3 645.0L970.1 645.9L970.4 646.0L971.5 645.7L972.5 645.8L973.6 646.5L975.6 645.9L976.4 646.7L977.2 646.8L978.0 646.6L978.8 647.7L980.2 647.2L981.8 647.8L983.5 647.5L984.6 648.0L984.9 647.9L985.4 647.1" fill="none" stroke="#0000ff" stroke-width="2.20" stroke-linejoin="round" stroke-linecap="round"/>
<text x="602.60" y="664.50" class="tk" text-anchor="middle">400</text>
<text x="657.29" y="664.50" class="tk" text-anchor="middle">500</text>
<text x="711.97" y="664.50" class="tk" text-anchor="middle">600</text>
<text x="766.66" y="664.50" class="tk" text-anchor="middle">700</text>
<text x="821.34" y="664.50" class="tk" text-anchor="middle">800</text>
<text x="876.03" y="664.50" class="tk" text-anchor="middle">900</text>
<text x="930.71" y="664.50" class="tk" text-anchor="middle">1000</text>
<text x="985.40" y="664.50" class="tk" text-anchor="middle">1100</text>
<text x="600.10" y="655.10" class="tk" text-anchor="end">0</text>
<text x="600.10" y="603.24" class="tk" text-anchor="end">0.2</text>
<text x="600.10" y="551.38" class="tk" text-anchor="end">0.4</text>
<text x="600.10" y="499.52" class="tk" text-anchor="end">0.6</text>
<text x="600.10" y="447.66" class="tk" text-anchor="end">0.8</text>
<text x="600.10" y="395.80" class="tk" text-anchor="end">1</text>
<text x="794.00" y="680.90" class="tk" text-anchor="middle" style="font-size:13.90px">Wavelength (nm)</text>
<text transform="translate(574.80,521.25) rotate(-90)" class="tk" text-anchor="middle" style="font-size:14.13px">Relative response</text>
<rect x="934.30" y="398.10" width="37.60" height="144.00" fill="#fff" stroke="#6e6e6e" stroke-width="1"/>
<line x1="936.70" y1="407.60" x2="951.00" y2="407.60" stroke="#0000ff" stroke-width="2"/>
<text x="952.00" y="412.60" class="tk">P1</text>
<line x1="936.70" y1="425.30" x2="951.00" y2="425.30" stroke="#008000" stroke-width="2"/>
<text x="952.00" y="430.30" class="tk">P2</text>
<line x1="936.70" y1="443.00" x2="951.00" y2="443.00" stroke="#ff0000" stroke-width="2"/>
<text x="952.00" y="448.00" class="tk">P3</text>
<line x1="936.70" y1="460.70" x2="951.00" y2="460.70" stroke="#00bfbf" stroke-width="2"/>
<text x="952.00" y="465.70" class="tk">P4</text>
<line x1="936.70" y1="478.40" x2="951.00" y2="478.40" stroke="#bf00bf" stroke-width="2"/>
<text x="952.00" y="483.40" class="tk">P5</text>
<line x1="936.70" y1="496.10" x2="951.00" y2="496.10" stroke="#bfbf00" stroke-width="2"/>
<text x="952.00" y="501.10" class="tk">P6</text>
<line x1="936.70" y1="513.80" x2="951.00" y2="513.80" stroke="#404040" stroke-width="2"/>
<text x="952.00" y="518.80" class="tk">P7</text>
<line x1="936.70" y1="531.50" x2="951.00" y2="531.50" stroke="#0000ff" stroke-width="2"/>
<text x="952.00" y="536.50" class="tk">IR</text>
<text x="10.00" y="338.00" class="cap lab">(<tspan font-weight="bold">a</tspan>)</text>
<text x="40.20" y="338.00" class="cap" textLength="416.00" lengthAdjust="spacingAndGlyphs">Theoretical spectral characteristics of the filters.</text>
<text x="552.50" y="338.00" class="cap lab">(<tspan font-weight="bold">b</tspan>)</text>
<text x="584.50" y="338.00" class="cap" textLength="433.80" lengthAdjust="spacingAndGlyphs">Theoretical relative response of the MSFA design.</text>
<text x="22.00" y="722.60" class="cap lab">(<tspan font-weight="bold">c</tspan>)</text>
<text x="51.20" y="722.60" class="cap" textLength="393.10" lengthAdjust="spacingAndGlyphs">Practical spectral characteristics of the filters.</text>
<text x="563.70" y="722.60" class="cap lab">(<tspan font-weight="bold">d</tspan>)</text>
<text x="596.00" y="722.60" class="cap" textLength="411.10" lengthAdjust="spacingAndGlyphs">Practical relative response of the MSFA design.</text>
</svg>
</body></html>
